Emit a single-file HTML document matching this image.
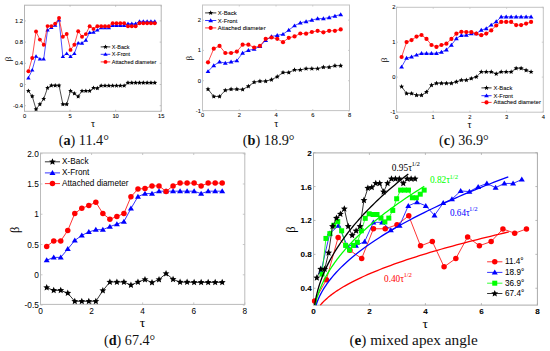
<!DOCTYPE html>
<html><head><meta charset="utf-8"><style>
html,body{margin:0;padding:0;background:#fff;}
body{width:550px;height:351px;overflow:hidden;}
svg{display:block;}

</style></head><body>
<svg width="550" height="351" viewBox="0 0 550 351">
<rect width="550" height="351" fill="#fff"/>
<rect x="24.5" y="5.2" width="136.7" height="106.1" fill="none" stroke="#b4b4b4" stroke-width="1"/>
<path d="M24.5 111.3v-1.5M24.5 5.2v1.5M70.07 111.3v-1.5M70.07 5.2v1.5M115.63 111.3v-1.5M115.63 5.2v1.5M161.2 111.3v-1.5M161.2 5.2v1.5M24.5 105.7h1.5M161.2 105.7h-1.5M24.5 84.5h1.5M161.2 84.5h-1.5M24.5 63.3h1.5M161.2 63.3h-1.5M24.5 42.1h1.5M161.2 42.1h-1.5M24.5 20.9h1.5M161.2 20.9h-1.5" stroke="#b4b4b4" stroke-width="0.8" fill="none"/>
<path d="M28.4 90.9 L32.23 96.3 L36.06 109.3 L39.89 104.3 L43.72 98.9 L47.55 87.9 L51.38 85.5 L55.21 85.5 L59.04 85.5 L62.87 104.3 L66.7 104.3 L70.53 90.9 L74.36 93.5 L78.19 96.5 L82.02 90.9 L85.85 90.9 L89.68 90.9 L93.51 87.9 L97.34 88.3 L101.17 85.7 L105 85.7 L108.83 85.7 L112.66 85.7 L116.49 85.7 L120.32 85.7 L124.15 85.7 L127.98 82.8 L131.81 82.8 L135.64 82.8 L139.47 82.8 L143.3 82.8 L147.13 82.8 L150.96 82.8 L154.79 82.8" fill="none" stroke="#000" stroke-width="0.7" stroke-linejoin="round"/>
<path d="M28.4 88.4 L29.08 89.97 L30.78 90.13 L29.49 91.26 L29.87 92.92 L28.4 92.05 L26.93 92.92 L27.31 91.26 L26.02 90.13 L27.72 89.97Z" fill="#000"/>
<path d="M32.23 93.8 L32.91 95.37 L34.61 95.53 L33.32 96.66 L33.7 98.32 L32.23 97.45 L30.76 98.32 L31.14 96.66 L29.85 95.53 L31.55 95.37Z" fill="#000"/>
<path d="M36.06 106.8 L36.74 108.37 L38.44 108.53 L37.15 109.66 L37.53 111.32 L36.06 110.45 L34.59 111.32 L34.97 109.66 L33.68 108.53 L35.38 108.37Z" fill="#000"/>
<path d="M39.89 101.8 L40.57 103.37 L42.27 103.53 L40.98 104.66 L41.36 106.32 L39.89 105.45 L38.42 106.32 L38.8 104.66 L37.51 103.53 L39.21 103.37Z" fill="#000"/>
<path d="M43.72 96.4 L44.4 97.97 L46.1 98.13 L44.81 99.26 L45.19 100.92 L43.72 100.05 L42.25 100.92 L42.63 99.26 L41.34 98.13 L43.04 97.97Z" fill="#000"/>
<path d="M47.55 85.4 L48.23 86.97 L49.93 87.13 L48.64 88.26 L49.02 89.92 L47.55 89.05 L46.08 89.92 L46.46 88.26 L45.17 87.13 L46.87 86.97Z" fill="#000"/>
<path d="M51.38 83 L52.06 84.57 L53.76 84.73 L52.47 85.86 L52.85 87.52 L51.38 86.65 L49.91 87.52 L50.29 85.86 L49 84.73 L50.7 84.57Z" fill="#000"/>
<path d="M55.21 83 L55.89 84.57 L57.59 84.73 L56.3 85.86 L56.68 87.52 L55.21 86.65 L53.74 87.52 L54.12 85.86 L52.83 84.73 L54.53 84.57Z" fill="#000"/>
<path d="M59.04 83 L59.72 84.57 L61.42 84.73 L60.13 85.86 L60.51 87.52 L59.04 86.65 L57.57 87.52 L57.95 85.86 L56.66 84.73 L58.36 84.57Z" fill="#000"/>
<path d="M62.87 101.8 L63.55 103.37 L65.25 103.53 L63.96 104.66 L64.34 106.32 L62.87 105.45 L61.4 106.32 L61.78 104.66 L60.49 103.53 L62.19 103.37Z" fill="#000"/>
<path d="M66.7 101.8 L67.38 103.37 L69.08 103.53 L67.79 104.66 L68.17 106.32 L66.7 105.45 L65.23 106.32 L65.61 104.66 L64.32 103.53 L66.02 103.37Z" fill="#000"/>
<path d="M70.53 88.4 L71.21 89.97 L72.91 90.13 L71.62 91.26 L72 92.92 L70.53 92.05 L69.06 92.92 L69.44 91.26 L68.15 90.13 L69.85 89.97Z" fill="#000"/>
<path d="M74.36 91 L75.04 92.57 L76.74 92.73 L75.45 93.86 L75.83 95.52 L74.36 94.65 L72.89 95.52 L73.27 93.86 L71.98 92.73 L73.68 92.57Z" fill="#000"/>
<path d="M78.19 94 L78.87 95.57 L80.57 95.73 L79.28 96.86 L79.66 98.52 L78.19 97.65 L76.72 98.52 L77.1 96.86 L75.81 95.73 L77.51 95.57Z" fill="#000"/>
<path d="M82.02 88.4 L82.7 89.97 L84.4 90.13 L83.11 91.26 L83.49 92.92 L82.02 92.05 L80.55 92.92 L80.93 91.26 L79.64 90.13 L81.34 89.97Z" fill="#000"/>
<path d="M85.85 88.4 L86.53 89.97 L88.23 90.13 L86.94 91.26 L87.32 92.92 L85.85 92.05 L84.38 92.92 L84.76 91.26 L83.47 90.13 L85.17 89.97Z" fill="#000"/>
<path d="M89.68 88.4 L90.36 89.97 L92.06 90.13 L90.77 91.26 L91.15 92.92 L89.68 92.05 L88.21 92.92 L88.59 91.26 L87.3 90.13 L89 89.97Z" fill="#000"/>
<path d="M93.51 85.4 L94.19 86.97 L95.89 87.13 L94.6 88.26 L94.98 89.92 L93.51 89.05 L92.04 89.92 L92.42 88.26 L91.13 87.13 L92.83 86.97Z" fill="#000"/>
<path d="M97.34 85.8 L98.02 87.37 L99.72 87.53 L98.43 88.66 L98.81 90.32 L97.34 89.45 L95.87 90.32 L96.25 88.66 L94.96 87.53 L96.66 87.37Z" fill="#000"/>
<path d="M101.17 83.2 L101.85 84.77 L103.55 84.93 L102.26 86.06 L102.64 87.72 L101.17 86.85 L99.7 87.72 L100.08 86.06 L98.79 84.93 L100.49 84.77Z" fill="#000"/>
<path d="M105 83.2 L105.68 84.77 L107.38 84.93 L106.09 86.06 L106.47 87.72 L105 86.85 L103.53 87.72 L103.91 86.06 L102.62 84.93 L104.32 84.77Z" fill="#000"/>
<path d="M108.83 83.2 L109.51 84.77 L111.21 84.93 L109.92 86.06 L110.3 87.72 L108.83 86.85 L107.36 87.72 L107.74 86.06 L106.45 84.93 L108.15 84.77Z" fill="#000"/>
<path d="M112.66 83.2 L113.34 84.77 L115.04 84.93 L113.75 86.06 L114.13 87.72 L112.66 86.85 L111.19 87.72 L111.57 86.06 L110.28 84.93 L111.98 84.77Z" fill="#000"/>
<path d="M116.49 83.2 L117.17 84.77 L118.87 84.93 L117.58 86.06 L117.96 87.72 L116.49 86.85 L115.02 87.72 L115.4 86.06 L114.11 84.93 L115.81 84.77Z" fill="#000"/>
<path d="M120.32 83.2 L121 84.77 L122.7 84.93 L121.41 86.06 L121.79 87.72 L120.32 86.85 L118.85 87.72 L119.23 86.06 L117.94 84.93 L119.64 84.77Z" fill="#000"/>
<path d="M124.15 83.2 L124.83 84.77 L126.53 84.93 L125.24 86.06 L125.62 87.72 L124.15 86.85 L122.68 87.72 L123.06 86.06 L121.77 84.93 L123.47 84.77Z" fill="#000"/>
<path d="M127.98 80.3 L128.66 81.87 L130.36 82.03 L129.07 83.16 L129.45 84.82 L127.98 83.95 L126.51 84.82 L126.89 83.16 L125.6 82.03 L127.3 81.87Z" fill="#000"/>
<path d="M131.81 80.3 L132.49 81.87 L134.19 82.03 L132.9 83.16 L133.28 84.82 L131.81 83.95 L130.34 84.82 L130.72 83.16 L129.43 82.03 L131.13 81.87Z" fill="#000"/>
<path d="M135.64 80.3 L136.32 81.87 L138.02 82.03 L136.73 83.16 L137.11 84.82 L135.64 83.95 L134.17 84.82 L134.55 83.16 L133.26 82.03 L134.96 81.87Z" fill="#000"/>
<path d="M139.47 80.3 L140.15 81.87 L141.85 82.03 L140.56 83.16 L140.94 84.82 L139.47 83.95 L138 84.82 L138.38 83.16 L137.09 82.03 L138.79 81.87Z" fill="#000"/>
<path d="M143.3 80.3 L143.98 81.87 L145.68 82.03 L144.39 83.16 L144.77 84.82 L143.3 83.95 L141.83 84.82 L142.21 83.16 L140.92 82.03 L142.62 81.87Z" fill="#000"/>
<path d="M147.13 80.3 L147.81 81.87 L149.51 82.03 L148.22 83.16 L148.6 84.82 L147.13 83.95 L145.66 84.82 L146.04 83.16 L144.75 82.03 L146.45 81.87Z" fill="#000"/>
<path d="M150.96 80.3 L151.64 81.87 L153.34 82.03 L152.05 83.16 L152.43 84.82 L150.96 83.95 L149.49 84.82 L149.87 83.16 L148.58 82.03 L150.28 81.87Z" fill="#000"/>
<path d="M154.79 80.3 L155.47 81.87 L157.17 82.03 L155.88 83.16 L156.26 84.82 L154.79 83.95 L153.32 84.82 L153.7 83.16 L152.41 82.03 L154.11 81.87Z" fill="#000"/>
<path d="M28.4 77.9 L32.23 70 L36.06 56.3 L39.89 59 L43.72 59 L47.55 30 L51.38 27.6 L55.21 25.2 L59.04 19.9 L62.87 56.6 L66.7 53.5 L70.53 56.6 L74.36 53.5 L78.19 43 L82.02 43.2 L85.85 40.2 L89.68 32.5 L93.51 32.3 L97.34 30.1 L101.17 27.8 L105 27.8 L108.83 27.8 L112.66 25.4 L116.49 25.4 L120.32 25.4 L124.15 25.4 L127.98 23.7 L131.81 23.7 L135.64 23.7 L139.47 21.4 L143.3 21.4 L147.13 21.4 L150.96 21.4 L154.79 21.4" fill="none" stroke="#0000ff" stroke-width="0.7" stroke-linejoin="round"/>
<path d="M28.4 75.81L30.6 79.41L26.2 79.41Z" fill="#0000ff"/>
<path d="M32.23 67.91L34.43 71.51L30.03 71.51Z" fill="#0000ff"/>
<path d="M36.06 54.21L38.26 57.81L33.86 57.81Z" fill="#0000ff"/>
<path d="M39.89 56.91L42.09 60.51L37.69 60.51Z" fill="#0000ff"/>
<path d="M43.72 56.91L45.92 60.51L41.52 60.51Z" fill="#0000ff"/>
<path d="M47.55 27.91L49.75 31.51L45.35 31.51Z" fill="#0000ff"/>
<path d="M51.38 25.51L53.58 29.11L49.18 29.11Z" fill="#0000ff"/>
<path d="M55.21 23.11L57.41 26.71L53.01 26.71Z" fill="#0000ff"/>
<path d="M59.04 17.81L61.24 21.41L56.84 21.41Z" fill="#0000ff"/>
<path d="M62.87 54.51L65.07 58.11L60.67 58.11Z" fill="#0000ff"/>
<path d="M66.7 51.41L68.9 55.01L64.5 55.01Z" fill="#0000ff"/>
<path d="M70.53 54.51L72.73 58.11L68.33 58.11Z" fill="#0000ff"/>
<path d="M74.36 51.41L76.56 55.01L72.16 55.01Z" fill="#0000ff"/>
<path d="M78.19 40.91L80.39 44.51L75.99 44.51Z" fill="#0000ff"/>
<path d="M82.02 41.11L84.22 44.71L79.82 44.71Z" fill="#0000ff"/>
<path d="M85.85 38.11L88.05 41.71L83.65 41.71Z" fill="#0000ff"/>
<path d="M89.68 30.41L91.88 34.01L87.48 34.01Z" fill="#0000ff"/>
<path d="M93.51 30.21L95.71 33.81L91.31 33.81Z" fill="#0000ff"/>
<path d="M97.34 28.01L99.54 31.61L95.14 31.61Z" fill="#0000ff"/>
<path d="M101.17 25.71L103.37 29.31L98.97 29.31Z" fill="#0000ff"/>
<path d="M105 25.71L107.2 29.31L102.8 29.31Z" fill="#0000ff"/>
<path d="M108.83 25.71L111.03 29.31L106.63 29.31Z" fill="#0000ff"/>
<path d="M112.66 23.31L114.86 26.91L110.46 26.91Z" fill="#0000ff"/>
<path d="M116.49 23.31L118.69 26.91L114.29 26.91Z" fill="#0000ff"/>
<path d="M120.32 23.31L122.52 26.91L118.12 26.91Z" fill="#0000ff"/>
<path d="M124.15 23.31L126.35 26.91L121.95 26.91Z" fill="#0000ff"/>
<path d="M127.98 21.61L130.18 25.21L125.78 25.21Z" fill="#0000ff"/>
<path d="M131.81 21.61L134.01 25.21L129.61 25.21Z" fill="#0000ff"/>
<path d="M135.64 21.61L137.84 25.21L133.44 25.21Z" fill="#0000ff"/>
<path d="M139.47 19.31L141.67 22.91L137.27 22.91Z" fill="#0000ff"/>
<path d="M143.3 19.31L145.5 22.91L141.1 22.91Z" fill="#0000ff"/>
<path d="M147.13 19.31L149.33 22.91L144.93 22.91Z" fill="#0000ff"/>
<path d="M150.96 19.31L153.16 22.91L148.76 22.91Z" fill="#0000ff"/>
<path d="M154.79 19.31L156.99 22.91L152.59 22.91Z" fill="#0000ff"/>
<path d="M28.4 71.3 L32.23 58 L36.06 31.5 L39.89 39.6 L43.72 44.7 L47.55 26.1 L51.38 26.1 L55.21 23.6 L59.04 18 L62.87 36.8 L66.7 34 L70.53 49.9 L74.36 44.7 L78.19 31.2 L82.02 36.7 L85.85 34.1 L89.68 26.2 L93.51 28.9 L97.34 26.2 L101.17 26.2 L105 26.2 L108.83 26.2 L112.66 23.2 L116.49 23.2 L120.32 23.2 L124.15 23.2 L127.98 26.2 L131.81 26.2 L135.64 26.2 L139.47 23.2 L143.3 23.2 L147.13 23.2 L150.96 23.2 L154.79 23.2" fill="none" stroke="#ff0000" stroke-width="0.7" stroke-linejoin="round"/>
<circle cx="28.4" cy="71.3" r="1.95" fill="#ff0000"/>
<circle cx="32.23" cy="58" r="1.95" fill="#ff0000"/>
<circle cx="36.06" cy="31.5" r="1.95" fill="#ff0000"/>
<circle cx="39.89" cy="39.6" r="1.95" fill="#ff0000"/>
<circle cx="43.72" cy="44.7" r="1.95" fill="#ff0000"/>
<circle cx="47.55" cy="26.1" r="1.95" fill="#ff0000"/>
<circle cx="51.38" cy="26.1" r="1.95" fill="#ff0000"/>
<circle cx="55.21" cy="23.6" r="1.95" fill="#ff0000"/>
<circle cx="59.04" cy="18" r="1.95" fill="#ff0000"/>
<circle cx="62.87" cy="36.8" r="1.95" fill="#ff0000"/>
<circle cx="66.7" cy="34" r="1.95" fill="#ff0000"/>
<circle cx="70.53" cy="49.9" r="1.95" fill="#ff0000"/>
<circle cx="74.36" cy="44.7" r="1.95" fill="#ff0000"/>
<circle cx="78.19" cy="31.2" r="1.95" fill="#ff0000"/>
<circle cx="82.02" cy="36.7" r="1.95" fill="#ff0000"/>
<circle cx="85.85" cy="34.1" r="1.95" fill="#ff0000"/>
<circle cx="89.68" cy="26.2" r="1.95" fill="#ff0000"/>
<circle cx="93.51" cy="28.9" r="1.95" fill="#ff0000"/>
<circle cx="97.34" cy="26.2" r="1.95" fill="#ff0000"/>
<circle cx="101.17" cy="26.2" r="1.95" fill="#ff0000"/>
<circle cx="105" cy="26.2" r="1.95" fill="#ff0000"/>
<circle cx="108.83" cy="26.2" r="1.95" fill="#ff0000"/>
<circle cx="112.66" cy="23.2" r="1.95" fill="#ff0000"/>
<circle cx="116.49" cy="23.2" r="1.95" fill="#ff0000"/>
<circle cx="120.32" cy="23.2" r="1.95" fill="#ff0000"/>
<circle cx="124.15" cy="23.2" r="1.95" fill="#ff0000"/>
<circle cx="127.98" cy="26.2" r="1.95" fill="#ff0000"/>
<circle cx="131.81" cy="26.2" r="1.95" fill="#ff0000"/>
<circle cx="135.64" cy="26.2" r="1.95" fill="#ff0000"/>
<circle cx="139.47" cy="23.2" r="1.95" fill="#ff0000"/>
<circle cx="143.3" cy="23.2" r="1.95" fill="#ff0000"/>
<circle cx="147.13" cy="23.2" r="1.95" fill="#ff0000"/>
<circle cx="150.96" cy="23.2" r="1.95" fill="#ff0000"/>
<circle cx="154.79" cy="23.2" r="1.95" fill="#ff0000"/>
<text x="23" y="20.9" font-family="Liberation Sans" font-size="5.8" text-anchor="end" fill="#000" stroke="#000" stroke-width="0.06" dominant-baseline="central">1.2</text>
<text x="23" y="42.1" font-family="Liberation Sans" font-size="5.8" text-anchor="end" fill="#000" stroke="#000" stroke-width="0.06" dominant-baseline="central">0.8</text>
<text x="23" y="63.3" font-family="Liberation Sans" font-size="5.8" text-anchor="end" fill="#000" stroke="#000" stroke-width="0.06" dominant-baseline="central">0.4</text>
<text x="23" y="84.5" font-family="Liberation Sans" font-size="5.8" text-anchor="end" fill="#000" stroke="#000" stroke-width="0.06" dominant-baseline="central">0</text>
<text x="23" y="105.7" font-family="Liberation Sans" font-size="5.8" text-anchor="end" fill="#000" stroke="#000" stroke-width="0.06" dominant-baseline="central">-0.4</text>
<text x="24.5" y="115.6" font-family="Liberation Sans" font-size="5.8" text-anchor="middle" fill="#000" stroke="#000" stroke-width="0.06" dominant-baseline="central">0</text>
<text x="70.07" y="115.6" font-family="Liberation Sans" font-size="5.8" text-anchor="middle" fill="#000" stroke="#000" stroke-width="0.06" dominant-baseline="central">5</text>
<text x="115.63" y="115.6" font-family="Liberation Sans" font-size="5.8" text-anchor="middle" fill="#000" stroke="#000" stroke-width="0.06" dominant-baseline="central">10</text>
<text x="161.2" y="115.6" font-family="Liberation Sans" font-size="5.8" text-anchor="middle" fill="#000" stroke="#000" stroke-width="0.06" dominant-baseline="central">15</text>
<text x="93.1" y="123.7" font-family="Liberation Serif" font-size="10" text-anchor="middle" dominant-baseline="central">&#964;</text>
<text x="0" y="0" font-family="Liberation Serif" font-size="9" text-anchor="middle" transform="translate(8.4 59) rotate(-90)" dominant-baseline="central">&#946;</text>
<path d="M100.7 46.9H110.3" stroke="#000" stroke-width="0.8"/>
<path d="M105.5 44.4 L106.18 45.97 L107.88 46.13 L106.59 47.26 L106.97 48.92 L105.5 48.05 L104.03 48.92 L104.41 47.26 L103.12 46.13 L104.82 45.97Z" fill="#000"/>
<text x="111.8" y="46.9" font-family="Liberation Sans" font-size="5.5" text-anchor="start" fill="#000" stroke="#000" stroke-width="0.06" dominant-baseline="central">X-Back</text>
<path d="M100.7 54.3H110.3" stroke="#0000ff" stroke-width="0.8"/>
<path d="M105.5 52.21L107.7 55.81L103.3 55.81Z" fill="#0000ff"/>
<text x="111.8" y="54.3" font-family="Liberation Sans" font-size="5.5" text-anchor="start" fill="#000" stroke="#000" stroke-width="0.06" dominant-baseline="central">X-Front</text>
<path d="M100.7 61.9H110.3" stroke="#ff0000" stroke-width="0.8"/>
<circle cx="105.5" cy="61.9" r="1.95" fill="#ff0000"/>
<text x="111.8" y="61.9" font-family="Liberation Sans" font-size="5.5" text-anchor="start" fill="#000" stroke="#000" stroke-width="0.06" dominant-baseline="central">Attached diameter</text>
<text x="58.7" y="145" font-family="Liberation Serif" font-size="14" textLength="50.2" lengthAdjust="spacingAndGlyphs" fill="#111">(<tspan font-weight="bold">a</tspan>) 11.4&#176;</text>
<rect x="202.5" y="5" width="147" height="105.6" fill="none" stroke="#c4c4c4" stroke-width="1"/>
<path d="M202.5 110.6v-1.5M202.5 5v1.5M239.25 110.6v-1.5M239.25 5v1.5M276 110.6v-1.5M276 5v1.5M312.75 110.6v-1.5M312.75 5v1.5M349.5 110.6v-1.5M349.5 5v1.5M202.5 111h1.5M349.5 111h-1.5M202.5 80.71h1.5M349.5 80.71h-1.5M202.5 50.42h1.5M349.5 50.42h-1.5M202.5 20.13h1.5M349.5 20.13h-1.5" stroke="#c4c4c4" stroke-width="0.8" fill="none"/>
<path d="M208 89.2 L213.77 96.5 L219.54 96.5 L225.31 90.3 L231.08 89.2 L236.85 89.2 L242.62 89.5 L248.39 86.3 L254.16 82.2 L259.93 81.2 L265.7 81.2 L271.47 79.7 L277.24 76.7 L283.01 72.5 L288.78 72.5 L294.55 69.9 L300.32 69.9 L306.09 68.6 L311.86 68.6 L317.63 68.6 L323.4 67.2 L329.17 67.2 L334.94 65.7 L340.71 65.7" fill="none" stroke="#000" stroke-width="0.7" stroke-linejoin="round"/>
<path d="M208 86.6 L208.7 88.23 L210.47 88.4 L209.14 89.57 L209.53 91.3 L208 90.4 L206.47 91.3 L206.86 89.57 L205.53 88.4 L207.3 88.23Z" fill="#000"/>
<path d="M213.77 93.9 L214.47 95.53 L216.24 95.7 L214.91 96.87 L215.3 98.6 L213.77 97.7 L212.24 98.6 L212.63 96.87 L211.3 95.7 L213.07 95.53Z" fill="#000"/>
<path d="M219.54 93.9 L220.24 95.53 L222.01 95.7 L220.68 96.87 L221.07 98.6 L219.54 97.7 L218.01 98.6 L218.4 96.87 L217.07 95.7 L218.84 95.53Z" fill="#000"/>
<path d="M225.31 87.7 L226.01 89.33 L227.78 89.5 L226.45 90.67 L226.84 92.4 L225.31 91.5 L223.78 92.4 L224.17 90.67 L222.84 89.5 L224.61 89.33Z" fill="#000"/>
<path d="M231.08 86.6 L231.78 88.23 L233.55 88.4 L232.22 89.57 L232.61 91.3 L231.08 90.4 L229.55 91.3 L229.94 89.57 L228.61 88.4 L230.38 88.23Z" fill="#000"/>
<path d="M236.85 86.6 L237.55 88.23 L239.32 88.4 L237.99 89.57 L238.38 91.3 L236.85 90.4 L235.32 91.3 L235.71 89.57 L234.38 88.4 L236.15 88.23Z" fill="#000"/>
<path d="M242.62 86.9 L243.32 88.53 L245.09 88.7 L243.76 89.87 L244.15 91.6 L242.62 90.7 L241.09 91.6 L241.48 89.87 L240.15 88.7 L241.92 88.53Z" fill="#000"/>
<path d="M248.39 83.7 L249.09 85.33 L250.86 85.5 L249.53 86.67 L249.92 88.4 L248.39 87.5 L246.86 88.4 L247.25 86.67 L245.92 85.5 L247.69 85.33Z" fill="#000"/>
<path d="M254.16 79.6 L254.86 81.23 L256.63 81.4 L255.3 82.57 L255.69 84.3 L254.16 83.4 L252.63 84.3 L253.02 82.57 L251.69 81.4 L253.46 81.23Z" fill="#000"/>
<path d="M259.93 78.6 L260.63 80.23 L262.4 80.4 L261.07 81.57 L261.46 83.3 L259.93 82.4 L258.4 83.3 L258.79 81.57 L257.46 80.4 L259.23 80.23Z" fill="#000"/>
<path d="M265.7 78.6 L266.4 80.23 L268.17 80.4 L266.84 81.57 L267.23 83.3 L265.7 82.4 L264.17 83.3 L264.56 81.57 L263.23 80.4 L265 80.23Z" fill="#000"/>
<path d="M271.47 77.1 L272.17 78.73 L273.94 78.9 L272.61 80.07 L273 81.8 L271.47 80.9 L269.94 81.8 L270.33 80.07 L269 78.9 L270.77 78.73Z" fill="#000"/>
<path d="M277.24 74.1 L277.94 75.73 L279.71 75.9 L278.38 77.07 L278.77 78.8 L277.24 77.9 L275.71 78.8 L276.1 77.07 L274.77 75.9 L276.54 75.73Z" fill="#000"/>
<path d="M283.01 69.9 L283.71 71.53 L285.48 71.7 L284.15 72.87 L284.54 74.6 L283.01 73.7 L281.48 74.6 L281.87 72.87 L280.54 71.7 L282.31 71.53Z" fill="#000"/>
<path d="M288.78 69.9 L289.48 71.53 L291.25 71.7 L289.92 72.87 L290.31 74.6 L288.78 73.7 L287.25 74.6 L287.64 72.87 L286.31 71.7 L288.08 71.53Z" fill="#000"/>
<path d="M294.55 67.3 L295.25 68.93 L297.02 69.1 L295.69 70.27 L296.08 72 L294.55 71.1 L293.02 72 L293.41 70.27 L292.08 69.1 L293.85 68.93Z" fill="#000"/>
<path d="M300.32 67.3 L301.02 68.93 L302.79 69.1 L301.46 70.27 L301.85 72 L300.32 71.1 L298.79 72 L299.18 70.27 L297.85 69.1 L299.62 68.93Z" fill="#000"/>
<path d="M306.09 66 L306.79 67.63 L308.56 67.8 L307.23 68.97 L307.62 70.7 L306.09 69.8 L304.56 70.7 L304.95 68.97 L303.62 67.8 L305.39 67.63Z" fill="#000"/>
<path d="M311.86 66 L312.56 67.63 L314.33 67.8 L313 68.97 L313.39 70.7 L311.86 69.8 L310.33 70.7 L310.72 68.97 L309.39 67.8 L311.16 67.63Z" fill="#000"/>
<path d="M317.63 66 L318.33 67.63 L320.1 67.8 L318.77 68.97 L319.16 70.7 L317.63 69.8 L316.1 70.7 L316.49 68.97 L315.16 67.8 L316.93 67.63Z" fill="#000"/>
<path d="M323.4 64.6 L324.1 66.23 L325.87 66.4 L324.54 67.57 L324.93 69.3 L323.4 68.4 L321.87 69.3 L322.26 67.57 L320.93 66.4 L322.7 66.23Z" fill="#000"/>
<path d="M329.17 64.6 L329.87 66.23 L331.64 66.4 L330.31 67.57 L330.7 69.3 L329.17 68.4 L327.64 69.3 L328.03 67.57 L326.7 66.4 L328.47 66.23Z" fill="#000"/>
<path d="M334.94 63.1 L335.64 64.73 L337.41 64.9 L336.08 66.07 L336.47 67.8 L334.94 66.9 L333.41 67.8 L333.8 66.07 L332.47 64.9 L334.24 64.73Z" fill="#000"/>
<path d="M340.71 63.1 L341.41 64.73 L343.18 64.9 L341.85 66.07 L342.24 67.8 L340.71 66.9 L339.18 67.8 L339.57 66.07 L338.24 64.9 L340.01 64.73Z" fill="#000"/>
<path d="M208 71.4 L213.77 65.5 L219.54 61.8 L225.31 63.1 L231.08 61.8 L236.85 60.7 L242.62 53 L248.39 50.3 L254.16 49.2 L259.93 46.3 L265.7 40.4 L271.47 36.5 L277.24 35.3 L283.01 34.2 L288.78 30.1 L294.55 25.7 L300.32 22.8 L306.09 21.5 L311.86 20.1 L317.63 18.6 L323.4 18.6 L329.17 17.5 L334.94 16 L340.71 14.5" fill="none" stroke="#0000ff" stroke-width="0.7" stroke-linejoin="round"/>
<path d="M208 69.14L210.4 73.04L205.6 73.04Z" fill="#0000ff"/>
<path d="M213.77 63.24L216.17 67.14L211.37 67.14Z" fill="#0000ff"/>
<path d="M219.54 59.54L221.94 63.44L217.14 63.44Z" fill="#0000ff"/>
<path d="M225.31 60.84L227.71 64.74L222.91 64.74Z" fill="#0000ff"/>
<path d="M231.08 59.54L233.48 63.44L228.68 63.44Z" fill="#0000ff"/>
<path d="M236.85 58.44L239.25 62.34L234.45 62.34Z" fill="#0000ff"/>
<path d="M242.62 50.74L245.02 54.64L240.22 54.64Z" fill="#0000ff"/>
<path d="M248.39 48.04L250.79 51.94L245.99 51.94Z" fill="#0000ff"/>
<path d="M254.16 46.94L256.56 50.84L251.76 50.84Z" fill="#0000ff"/>
<path d="M259.93 44.04L262.33 47.94L257.53 47.94Z" fill="#0000ff"/>
<path d="M265.7 38.14L268.1 42.04L263.3 42.04Z" fill="#0000ff"/>
<path d="M271.47 34.24L273.87 38.14L269.07 38.14Z" fill="#0000ff"/>
<path d="M277.24 33.04L279.64 36.94L274.84 36.94Z" fill="#0000ff"/>
<path d="M283.01 31.94L285.41 35.84L280.61 35.84Z" fill="#0000ff"/>
<path d="M288.78 27.84L291.18 31.74L286.38 31.74Z" fill="#0000ff"/>
<path d="M294.55 23.44L296.95 27.34L292.15 27.34Z" fill="#0000ff"/>
<path d="M300.32 20.54L302.72 24.44L297.92 24.44Z" fill="#0000ff"/>
<path d="M306.09 19.24L308.49 23.14L303.69 23.14Z" fill="#0000ff"/>
<path d="M311.86 17.84L314.26 21.74L309.46 21.74Z" fill="#0000ff"/>
<path d="M317.63 16.34L320.03 20.24L315.23 20.24Z" fill="#0000ff"/>
<path d="M323.4 16.34L325.8 20.24L321 20.24Z" fill="#0000ff"/>
<path d="M329.17 15.24L331.57 19.14L326.77 19.14Z" fill="#0000ff"/>
<path d="M334.94 13.74L337.34 17.64L332.54 17.64Z" fill="#0000ff"/>
<path d="M340.71 12.24L343.11 16.14L338.31 16.14Z" fill="#0000ff"/>
<path d="M208 62.3 L213.77 48.7 L219.54 45.9 L225.31 53 L231.08 53 L236.85 51.6 L242.62 44.7 L248.39 44.7 L254.16 47.5 L259.93 45.9 L265.7 38.8 L271.47 37.5 L277.24 38.8 L283.01 42.2 L288.78 37.8 L294.55 36.4 L300.32 33.5 L306.09 33.7 L311.86 32 L317.63 30.8 L323.4 32.3 L329.17 30.8 L334.94 30.8 L340.71 29.4" fill="none" stroke="#ff0000" stroke-width="0.7" stroke-linejoin="round"/>
<circle cx="208" cy="62.3" r="2.1" fill="#ff0000"/>
<circle cx="213.77" cy="48.7" r="2.1" fill="#ff0000"/>
<circle cx="219.54" cy="45.9" r="2.1" fill="#ff0000"/>
<circle cx="225.31" cy="53" r="2.1" fill="#ff0000"/>
<circle cx="231.08" cy="53" r="2.1" fill="#ff0000"/>
<circle cx="236.85" cy="51.6" r="2.1" fill="#ff0000"/>
<circle cx="242.62" cy="44.7" r="2.1" fill="#ff0000"/>
<circle cx="248.39" cy="44.7" r="2.1" fill="#ff0000"/>
<circle cx="254.16" cy="47.5" r="2.1" fill="#ff0000"/>
<circle cx="259.93" cy="45.9" r="2.1" fill="#ff0000"/>
<circle cx="265.7" cy="38.8" r="2.1" fill="#ff0000"/>
<circle cx="271.47" cy="37.5" r="2.1" fill="#ff0000"/>
<circle cx="277.24" cy="38.8" r="2.1" fill="#ff0000"/>
<circle cx="283.01" cy="42.2" r="2.1" fill="#ff0000"/>
<circle cx="288.78" cy="37.8" r="2.1" fill="#ff0000"/>
<circle cx="294.55" cy="36.4" r="2.1" fill="#ff0000"/>
<circle cx="300.32" cy="33.5" r="2.1" fill="#ff0000"/>
<circle cx="306.09" cy="33.7" r="2.1" fill="#ff0000"/>
<circle cx="311.86" cy="32" r="2.1" fill="#ff0000"/>
<circle cx="317.63" cy="30.8" r="2.1" fill="#ff0000"/>
<circle cx="323.4" cy="32.3" r="2.1" fill="#ff0000"/>
<circle cx="329.17" cy="30.8" r="2.1" fill="#ff0000"/>
<circle cx="334.94" cy="30.8" r="2.1" fill="#ff0000"/>
<circle cx="340.71" cy="29.4" r="2.1" fill="#ff0000"/>
<text x="201" y="20.13" font-family="Liberation Sans" font-size="5.8" text-anchor="end" fill="#000" stroke="#000" stroke-width="0.06" dominant-baseline="central">2</text>
<text x="201" y="50.42" font-family="Liberation Sans" font-size="5.8" text-anchor="end" fill="#000" stroke="#000" stroke-width="0.06" dominant-baseline="central">1</text>
<text x="201" y="80.71" font-family="Liberation Sans" font-size="5.8" text-anchor="end" fill="#000" stroke="#000" stroke-width="0.06" dominant-baseline="central">0</text>
<text x="201" y="111" font-family="Liberation Sans" font-size="5.8" text-anchor="end" fill="#000" stroke="#000" stroke-width="0.06" dominant-baseline="central">-1</text>
<text x="202.5" y="115.4" font-family="Liberation Sans" font-size="5.8" text-anchor="middle" fill="#000" stroke="#000" stroke-width="0.06" dominant-baseline="central">0</text>
<text x="239.25" y="115.4" font-family="Liberation Sans" font-size="5.8" text-anchor="middle" fill="#000" stroke="#000" stroke-width="0.06" dominant-baseline="central">2</text>
<text x="276" y="115.4" font-family="Liberation Sans" font-size="5.8" text-anchor="middle" fill="#000" stroke="#000" stroke-width="0.06" dominant-baseline="central">4</text>
<text x="312.75" y="115.4" font-family="Liberation Sans" font-size="5.8" text-anchor="middle" fill="#000" stroke="#000" stroke-width="0.06" dominant-baseline="central">6</text>
<text x="349.5" y="115.4" font-family="Liberation Sans" font-size="5.8" text-anchor="middle" fill="#000" stroke="#000" stroke-width="0.06" dominant-baseline="central">8</text>
<text x="276.3" y="123.8" font-family="Liberation Serif" font-size="10" text-anchor="middle" dominant-baseline="central">&#964;</text>
<text x="0" y="0" font-family="Liberation Serif" font-size="9.2" text-anchor="middle" transform="translate(188.8 58.1) rotate(-90)" dominant-baseline="central">&#946;</text>
<path d="M205.1 12.9H216.3" stroke="#000" stroke-width="0.8"/>
<path d="M210.7 10.3 L211.4 11.93 L213.17 12.1 L211.84 13.27 L212.23 15 L210.7 14.1 L209.17 15 L209.56 13.27 L208.23 12.1 L210 11.93Z" fill="#000"/>
<text x="217.8" y="12.9" font-family="Liberation Sans" font-size="5.9" text-anchor="start" fill="#000" stroke="#000" stroke-width="0.06" dominant-baseline="central">X-Back</text>
<path d="M205.1 20.5H216.3" stroke="#0000ff" stroke-width="0.8"/>
<path d="M210.7 18.24L213.1 22.14L208.3 22.14Z" fill="#0000ff"/>
<text x="217.8" y="20.5" font-family="Liberation Sans" font-size="5.9" text-anchor="start" fill="#000" stroke="#000" stroke-width="0.06" dominant-baseline="central">X-Front</text>
<path d="M205.1 27.9H216.3" stroke="#ff0000" stroke-width="0.8"/>
<circle cx="210.7" cy="27.9" r="2.1" fill="#ff0000"/>
<text x="217.8" y="27.9" font-family="Liberation Sans" font-size="5.9" text-anchor="start" fill="#000" stroke="#000" stroke-width="0.06" dominant-baseline="central">Attached diameter</text>
<text x="242.8" y="144.8" font-family="Liberation Serif" font-size="14" textLength="51.8" lengthAdjust="spacingAndGlyphs" fill="#111">(<tspan font-weight="bold">b</tspan>) 18.9&#176;</text>
<rect x="396.5" y="7.3" width="146.8" height="104.9" fill="none" stroke="#c4c4c4" stroke-width="1"/>
<path d="M396.5 112.2v-1.5M396.5 7.3v1.5M433.2 112.2v-1.5M433.2 7.3v1.5M469.9 112.2v-1.5M469.9 7.3v1.5M506.6 112.2v-1.5M506.6 7.3v1.5M543.3 112.2v-1.5M543.3 7.3v1.5M396.5 112h1.5M543.3 112h-1.5M396.5 77.1h1.5M543.3 77.1h-1.5M396.5 42.2h1.5M543.3 42.2h-1.5M396.5 7.3h1.5M543.3 7.3h-1.5" stroke="#c4c4c4" stroke-width="0.8" fill="none"/>
<path d="M401.6 86.6 L406.58 93.5 L411.56 93.5 L416.54 95.2 L421.52 95.2 L426.5 92 L431.48 85.2 L436.46 83.3 L441.44 83.3 L446.42 83.3 L451.4 83.3 L456.38 81.8 L461.36 80.1 L466.34 80.1 L471.32 78.5 L476.3 76.9 L481.28 71.9 L486.26 71.9 L491.24 71.9 L496.22 73.8 L501.2 71.9 L506.18 71.9 L511.16 71.9 L516.14 68.3 L521.12 68.3 L526.1 70.3 L531.08 71.9" fill="none" stroke="#000" stroke-width="0.7" stroke-linejoin="round"/>
<path d="M401.6 84 L402.3 85.63 L404.07 85.8 L402.74 86.97 L403.13 88.7 L401.6 87.8 L400.07 88.7 L400.46 86.97 L399.13 85.8 L400.9 85.63Z" fill="#000"/>
<path d="M406.58 90.9 L407.28 92.53 L409.05 92.7 L407.72 93.87 L408.11 95.6 L406.58 94.7 L405.05 95.6 L405.44 93.87 L404.11 92.7 L405.88 92.53Z" fill="#000"/>
<path d="M411.56 90.9 L412.26 92.53 L414.03 92.7 L412.7 93.87 L413.09 95.6 L411.56 94.7 L410.03 95.6 L410.42 93.87 L409.09 92.7 L410.86 92.53Z" fill="#000"/>
<path d="M416.54 92.6 L417.24 94.23 L419.01 94.4 L417.68 95.57 L418.07 97.3 L416.54 96.4 L415.01 97.3 L415.4 95.57 L414.07 94.4 L415.84 94.23Z" fill="#000"/>
<path d="M421.52 92.6 L422.22 94.23 L423.99 94.4 L422.66 95.57 L423.05 97.3 L421.52 96.4 L419.99 97.3 L420.38 95.57 L419.05 94.4 L420.82 94.23Z" fill="#000"/>
<path d="M426.5 89.4 L427.2 91.03 L428.97 91.2 L427.64 92.37 L428.03 94.1 L426.5 93.2 L424.97 94.1 L425.36 92.37 L424.03 91.2 L425.8 91.03Z" fill="#000"/>
<path d="M431.48 82.6 L432.18 84.23 L433.95 84.4 L432.62 85.57 L433.01 87.3 L431.48 86.4 L429.95 87.3 L430.34 85.57 L429.01 84.4 L430.78 84.23Z" fill="#000"/>
<path d="M436.46 80.7 L437.16 82.33 L438.93 82.5 L437.6 83.67 L437.99 85.4 L436.46 84.5 L434.93 85.4 L435.32 83.67 L433.99 82.5 L435.76 82.33Z" fill="#000"/>
<path d="M441.44 80.7 L442.14 82.33 L443.91 82.5 L442.58 83.67 L442.97 85.4 L441.44 84.5 L439.91 85.4 L440.3 83.67 L438.97 82.5 L440.74 82.33Z" fill="#000"/>
<path d="M446.42 80.7 L447.12 82.33 L448.89 82.5 L447.56 83.67 L447.95 85.4 L446.42 84.5 L444.89 85.4 L445.28 83.67 L443.95 82.5 L445.72 82.33Z" fill="#000"/>
<path d="M451.4 80.7 L452.1 82.33 L453.87 82.5 L452.54 83.67 L452.93 85.4 L451.4 84.5 L449.87 85.4 L450.26 83.67 L448.93 82.5 L450.7 82.33Z" fill="#000"/>
<path d="M456.38 79.2 L457.08 80.83 L458.85 81 L457.52 82.17 L457.91 83.9 L456.38 83 L454.85 83.9 L455.24 82.17 L453.91 81 L455.68 80.83Z" fill="#000"/>
<path d="M461.36 77.5 L462.06 79.13 L463.83 79.3 L462.5 80.47 L462.89 82.2 L461.36 81.3 L459.83 82.2 L460.22 80.47 L458.89 79.3 L460.66 79.13Z" fill="#000"/>
<path d="M466.34 77.5 L467.04 79.13 L468.81 79.3 L467.48 80.47 L467.87 82.2 L466.34 81.3 L464.81 82.2 L465.2 80.47 L463.87 79.3 L465.64 79.13Z" fill="#000"/>
<path d="M471.32 75.9 L472.02 77.53 L473.79 77.7 L472.46 78.87 L472.85 80.6 L471.32 79.7 L469.79 80.6 L470.18 78.87 L468.85 77.7 L470.62 77.53Z" fill="#000"/>
<path d="M476.3 74.3 L477 75.93 L478.77 76.1 L477.44 77.27 L477.83 79 L476.3 78.1 L474.77 79 L475.16 77.27 L473.83 76.1 L475.6 75.93Z" fill="#000"/>
<path d="M481.28 69.3 L481.98 70.93 L483.75 71.1 L482.42 72.27 L482.81 74 L481.28 73.1 L479.75 74 L480.14 72.27 L478.81 71.1 L480.58 70.93Z" fill="#000"/>
<path d="M486.26 69.3 L486.96 70.93 L488.73 71.1 L487.4 72.27 L487.79 74 L486.26 73.1 L484.73 74 L485.12 72.27 L483.79 71.1 L485.56 70.93Z" fill="#000"/>
<path d="M491.24 69.3 L491.94 70.93 L493.71 71.1 L492.38 72.27 L492.77 74 L491.24 73.1 L489.71 74 L490.1 72.27 L488.77 71.1 L490.54 70.93Z" fill="#000"/>
<path d="M496.22 71.2 L496.92 72.83 L498.69 73 L497.36 74.17 L497.75 75.9 L496.22 75 L494.69 75.9 L495.08 74.17 L493.75 73 L495.52 72.83Z" fill="#000"/>
<path d="M501.2 69.3 L501.9 70.93 L503.67 71.1 L502.34 72.27 L502.73 74 L501.2 73.1 L499.67 74 L500.06 72.27 L498.73 71.1 L500.5 70.93Z" fill="#000"/>
<path d="M506.18 69.3 L506.88 70.93 L508.65 71.1 L507.32 72.27 L507.71 74 L506.18 73.1 L504.65 74 L505.04 72.27 L503.71 71.1 L505.48 70.93Z" fill="#000"/>
<path d="M511.16 69.3 L511.86 70.93 L513.63 71.1 L512.3 72.27 L512.69 74 L511.16 73.1 L509.63 74 L510.02 72.27 L508.69 71.1 L510.46 70.93Z" fill="#000"/>
<path d="M516.14 65.7 L516.84 67.33 L518.61 67.5 L517.28 68.67 L517.67 70.4 L516.14 69.5 L514.61 70.4 L515 68.67 L513.67 67.5 L515.44 67.33Z" fill="#000"/>
<path d="M521.12 65.7 L521.82 67.33 L523.59 67.5 L522.26 68.67 L522.65 70.4 L521.12 69.5 L519.59 70.4 L519.98 68.67 L518.65 67.5 L520.42 67.33Z" fill="#000"/>
<path d="M526.1 67.7 L526.8 69.33 L528.57 69.5 L527.24 70.67 L527.63 72.4 L526.1 71.5 L524.57 72.4 L524.96 70.67 L523.63 69.5 L525.4 69.33Z" fill="#000"/>
<path d="M531.08 69.3 L531.78 70.93 L533.55 71.1 L532.22 72.27 L532.61 74 L531.08 73.1 L529.55 74 L529.94 72.27 L528.61 71.1 L530.38 70.93Z" fill="#000"/>
<path d="M401.6 66.9 L406.58 58.1 L411.56 56.8 L416.54 54.9 L421.52 53.3 L426.5 53.3 L431.48 53.3 L436.46 53.3 L441.44 52 L446.42 49.8 L451.4 45 L456.38 38.5 L461.36 35.3 L466.34 35.2 L471.32 33.6 L476.3 33.6 L481.28 30.1 L486.26 28.5 L491.24 24.9 L496.22 21.6 L501.2 16.8 L506.18 16.8 L511.16 16.8 L516.14 16.8 L521.12 16.8 L526.1 16.8 L531.08 16.8" fill="none" stroke="#0000ff" stroke-width="0.7" stroke-linejoin="round"/>
<path d="M401.6 64.64L404 68.54L399.2 68.54Z" fill="#0000ff"/>
<path d="M406.58 55.84L408.98 59.74L404.18 59.74Z" fill="#0000ff"/>
<path d="M411.56 54.54L413.96 58.44L409.16 58.44Z" fill="#0000ff"/>
<path d="M416.54 52.64L418.94 56.54L414.14 56.54Z" fill="#0000ff"/>
<path d="M421.52 51.04L423.92 54.94L419.12 54.94Z" fill="#0000ff"/>
<path d="M426.5 51.04L428.9 54.94L424.1 54.94Z" fill="#0000ff"/>
<path d="M431.48 51.04L433.88 54.94L429.08 54.94Z" fill="#0000ff"/>
<path d="M436.46 51.04L438.86 54.94L434.06 54.94Z" fill="#0000ff"/>
<path d="M441.44 49.74L443.84 53.64L439.04 53.64Z" fill="#0000ff"/>
<path d="M446.42 47.54L448.82 51.44L444.02 51.44Z" fill="#0000ff"/>
<path d="M451.4 42.74L453.8 46.64L449 46.64Z" fill="#0000ff"/>
<path d="M456.38 36.24L458.78 40.14L453.98 40.14Z" fill="#0000ff"/>
<path d="M461.36 33.04L463.76 36.94L458.96 36.94Z" fill="#0000ff"/>
<path d="M466.34 32.94L468.74 36.84L463.94 36.84Z" fill="#0000ff"/>
<path d="M471.32 31.34L473.72 35.24L468.92 35.24Z" fill="#0000ff"/>
<path d="M476.3 31.34L478.7 35.24L473.9 35.24Z" fill="#0000ff"/>
<path d="M481.28 27.84L483.68 31.74L478.88 31.74Z" fill="#0000ff"/>
<path d="M486.26 26.24L488.66 30.14L483.86 30.14Z" fill="#0000ff"/>
<path d="M491.24 22.64L493.64 26.54L488.84 26.54Z" fill="#0000ff"/>
<path d="M496.22 19.34L498.62 23.24L493.82 23.24Z" fill="#0000ff"/>
<path d="M501.2 14.54L503.6 18.44L498.8 18.44Z" fill="#0000ff"/>
<path d="M506.18 14.54L508.58 18.44L503.78 18.44Z" fill="#0000ff"/>
<path d="M511.16 14.54L513.56 18.44L508.76 18.44Z" fill="#0000ff"/>
<path d="M516.14 14.54L518.54 18.44L513.74 18.44Z" fill="#0000ff"/>
<path d="M521.12 14.54L523.52 18.44L518.72 18.44Z" fill="#0000ff"/>
<path d="M526.1 14.54L528.5 18.44L523.7 18.44Z" fill="#0000ff"/>
<path d="M531.08 14.54L533.48 18.44L528.68 18.44Z" fill="#0000ff"/>
<path d="M401.6 57 L406.58 42.1 L411.56 40.1 L416.54 36.6 L421.52 35 L426.5 38.9 L431.48 45 L436.46 46.9 L441.44 45 L446.42 43.7 L451.4 38.9 L456.38 33.7 L461.36 31.8 L466.34 32.1 L471.32 32.1 L476.3 33.6 L481.28 35.2 L486.26 33.6 L491.24 30.4 L496.22 25.5 L501.2 21.9 L506.18 21.9 L511.16 21.9 L516.14 25.1 L521.12 25.1 L526.1 23.6 L531.08 21.9" fill="none" stroke="#ff0000" stroke-width="0.7" stroke-linejoin="round"/>
<circle cx="401.6" cy="57" r="2.1" fill="#ff0000"/>
<circle cx="406.58" cy="42.1" r="2.1" fill="#ff0000"/>
<circle cx="411.56" cy="40.1" r="2.1" fill="#ff0000"/>
<circle cx="416.54" cy="36.6" r="2.1" fill="#ff0000"/>
<circle cx="421.52" cy="35" r="2.1" fill="#ff0000"/>
<circle cx="426.5" cy="38.9" r="2.1" fill="#ff0000"/>
<circle cx="431.48" cy="45" r="2.1" fill="#ff0000"/>
<circle cx="436.46" cy="46.9" r="2.1" fill="#ff0000"/>
<circle cx="441.44" cy="45" r="2.1" fill="#ff0000"/>
<circle cx="446.42" cy="43.7" r="2.1" fill="#ff0000"/>
<circle cx="451.4" cy="38.9" r="2.1" fill="#ff0000"/>
<circle cx="456.38" cy="33.7" r="2.1" fill="#ff0000"/>
<circle cx="461.36" cy="31.8" r="2.1" fill="#ff0000"/>
<circle cx="466.34" cy="32.1" r="2.1" fill="#ff0000"/>
<circle cx="471.32" cy="32.1" r="2.1" fill="#ff0000"/>
<circle cx="476.3" cy="33.6" r="2.1" fill="#ff0000"/>
<circle cx="481.28" cy="35.2" r="2.1" fill="#ff0000"/>
<circle cx="486.26" cy="33.6" r="2.1" fill="#ff0000"/>
<circle cx="491.24" cy="30.4" r="2.1" fill="#ff0000"/>
<circle cx="496.22" cy="25.5" r="2.1" fill="#ff0000"/>
<circle cx="501.2" cy="21.9" r="2.1" fill="#ff0000"/>
<circle cx="506.18" cy="21.9" r="2.1" fill="#ff0000"/>
<circle cx="511.16" cy="21.9" r="2.1" fill="#ff0000"/>
<circle cx="516.14" cy="25.1" r="2.1" fill="#ff0000"/>
<circle cx="521.12" cy="25.1" r="2.1" fill="#ff0000"/>
<circle cx="526.1" cy="23.6" r="2.1" fill="#ff0000"/>
<circle cx="531.08" cy="21.9" r="2.1" fill="#ff0000"/>
<text x="395.5" y="7.3" font-family="Liberation Sans" font-size="5.8" text-anchor="end" fill="#000" stroke="#000" stroke-width="0.06" dominant-baseline="central">2</text>
<text x="395.5" y="42.2" font-family="Liberation Sans" font-size="5.8" text-anchor="end" fill="#000" stroke="#000" stroke-width="0.06" dominant-baseline="central">1</text>
<text x="395.5" y="77.1" font-family="Liberation Sans" font-size="5.8" text-anchor="end" fill="#000" stroke="#000" stroke-width="0.06" dominant-baseline="central">0</text>
<text x="395.5" y="112" font-family="Liberation Sans" font-size="5.8" text-anchor="end" fill="#000" stroke="#000" stroke-width="0.06" dominant-baseline="central">-1</text>
<text x="396.5" y="116.8" font-family="Liberation Sans" font-size="5.8" text-anchor="middle" fill="#000" stroke="#000" stroke-width="0.06" dominant-baseline="central">0</text>
<text x="433.2" y="116.8" font-family="Liberation Sans" font-size="5.8" text-anchor="middle" fill="#000" stroke="#000" stroke-width="0.06" dominant-baseline="central">1</text>
<text x="469.9" y="116.8" font-family="Liberation Sans" font-size="5.8" text-anchor="middle" fill="#000" stroke="#000" stroke-width="0.06" dominant-baseline="central">2</text>
<text x="506.6" y="116.8" font-family="Liberation Sans" font-size="5.8" text-anchor="middle" fill="#000" stroke="#000" stroke-width="0.06" dominant-baseline="central">3</text>
<text x="543.3" y="116.8" font-family="Liberation Sans" font-size="5.8" text-anchor="middle" fill="#000" stroke="#000" stroke-width="0.06" dominant-baseline="central">4</text>
<text x="469.6" y="124.7" font-family="Liberation Serif" font-size="10" text-anchor="middle" dominant-baseline="central">&#964;</text>
<text x="0" y="0" font-family="Liberation Serif" font-size="9.2" text-anchor="middle" transform="translate(384.1 59.9) rotate(-90)" dominant-baseline="central">&#946;</text>
<path d="M481.4 87.9H491.6" stroke="#000" stroke-width="0.8"/>
<path d="M486.5 85.3 L487.2 86.93 L488.97 87.1 L487.64 88.27 L488.03 90 L486.5 89.1 L484.97 90 L485.36 88.27 L484.03 87.1 L485.8 86.93Z" fill="#000"/>
<text x="493.5" y="87.9" font-family="Liberation Sans" font-size="5.85" text-anchor="start" fill="#000" stroke="#000" stroke-width="0.06" dominant-baseline="central">X-Back</text>
<path d="M481.4 95.7H491.6" stroke="#0000ff" stroke-width="0.8"/>
<path d="M486.5 93.44L488.9 97.34L484.1 97.34Z" fill="#0000ff"/>
<text x="493.5" y="95.7" font-family="Liberation Sans" font-size="5.85" text-anchor="start" fill="#000" stroke="#000" stroke-width="0.06" dominant-baseline="central">X-Front</text>
<path d="M481.4 102.4H491.6" stroke="#ff0000" stroke-width="0.8"/>
<circle cx="486.5" cy="102.4" r="2.1" fill="#ff0000"/>
<text x="493.5" y="102.4" font-family="Liberation Sans" font-size="5.85" text-anchor="start" fill="#000" stroke="#000" stroke-width="0.06" dominant-baseline="central">Attached diameter</text>
<text x="438.9" y="145" font-family="Liberation Serif" font-size="14" textLength="49.9" lengthAdjust="spacingAndGlyphs" fill="#111">(<tspan font-weight="bold">c</tspan>) 36.9&#176;</text>
<rect x="40.5" y="153" width="204.3" height="151.4" fill="none" stroke="#bbb" stroke-width="1"/>
<path d="M40.5 304.4v-2M40.5 153v2M91.58 304.4v-2M91.58 153v2M142.66 304.4v-2M142.66 153v2M193.74 304.4v-2M193.74 153v2M244.82 304.4v-2M244.82 153v2M40.5 305.07h2M244.8 305.07h-2M40.5 274.8h2M244.8 274.8h-2M40.5 244.53h2M244.8 244.53h-2M40.5 214.25h2M244.8 214.25h-2M40.5 183.98h2M244.8 183.98h-2M40.5 153.7h2M244.8 153.7h-2" stroke="#bbb" stroke-width="0.8" fill="none"/>
<path d="M46.7 287.6 L53.72 290.4 L60.74 290.4 L67.76 293.2 L74.78 301.3 L81.8 301.3 L88.82 301.3 L95.84 301.3 L102.86 290.6 L109.88 282 L116.9 282 L123.92 282 L130.94 285 L137.96 282 L144.98 279.5 L152 282.5 L159.02 279.5 L166.04 273.5 L173.06 279.3 L180.08 282.2 L187.1 282.2 L194.12 282.4 L201.14 282.4 L208.16 282.4 L215.18 282.4 L222.2 282.4" fill="none" stroke="#000" stroke-width="0.8" stroke-linejoin="round"/>
<path d="M46.7 284 L47.67 286.26 L50.12 286.49 L48.27 288.11 L48.82 290.51 L46.7 289.26 L44.58 290.51 L45.13 288.11 L43.28 286.49 L45.73 286.26Z" fill="#000"/>
<path d="M53.72 286.8 L54.69 289.06 L57.14 289.29 L55.29 290.91 L55.84 293.31 L53.72 292.06 L51.6 293.31 L52.15 290.91 L50.3 289.29 L52.75 289.06Z" fill="#000"/>
<path d="M60.74 286.8 L61.71 289.06 L64.16 289.29 L62.31 290.91 L62.86 293.31 L60.74 292.06 L58.62 293.31 L59.17 290.91 L57.32 289.29 L59.77 289.06Z" fill="#000"/>
<path d="M67.76 289.6 L68.73 291.86 L71.18 292.09 L69.33 293.71 L69.88 296.11 L67.76 294.86 L65.64 296.11 L66.19 293.71 L64.34 292.09 L66.79 291.86Z" fill="#000"/>
<path d="M74.78 297.7 L75.75 299.96 L78.2 300.19 L76.35 301.81 L76.9 304.21 L74.78 302.96 L72.66 304.21 L73.21 301.81 L71.36 300.19 L73.81 299.96Z" fill="#000"/>
<path d="M81.8 297.7 L82.77 299.96 L85.22 300.19 L83.37 301.81 L83.92 304.21 L81.8 302.96 L79.68 304.21 L80.23 301.81 L78.38 300.19 L80.83 299.96Z" fill="#000"/>
<path d="M88.82 297.7 L89.79 299.96 L92.24 300.19 L90.39 301.81 L90.94 304.21 L88.82 302.96 L86.7 304.21 L87.25 301.81 L85.4 300.19 L87.85 299.96Z" fill="#000"/>
<path d="M95.84 297.7 L96.81 299.96 L99.26 300.19 L97.41 301.81 L97.96 304.21 L95.84 302.96 L93.72 304.21 L94.27 301.81 L92.42 300.19 L94.87 299.96Z" fill="#000"/>
<path d="M102.86 287 L103.83 289.26 L106.28 289.49 L104.43 291.11 L104.98 293.51 L102.86 292.26 L100.74 293.51 L101.29 291.11 L99.44 289.49 L101.89 289.26Z" fill="#000"/>
<path d="M109.88 278.4 L110.85 280.66 L113.3 280.89 L111.45 282.51 L112 284.91 L109.88 283.66 L107.76 284.91 L108.31 282.51 L106.46 280.89 L108.91 280.66Z" fill="#000"/>
<path d="M116.9 278.4 L117.87 280.66 L120.32 280.89 L118.47 282.51 L119.02 284.91 L116.9 283.66 L114.78 284.91 L115.33 282.51 L113.48 280.89 L115.93 280.66Z" fill="#000"/>
<path d="M123.92 278.4 L124.89 280.66 L127.34 280.89 L125.49 282.51 L126.04 284.91 L123.92 283.66 L121.8 284.91 L122.35 282.51 L120.5 280.89 L122.95 280.66Z" fill="#000"/>
<path d="M130.94 281.4 L131.91 283.66 L134.36 283.89 L132.51 285.51 L133.06 287.91 L130.94 286.66 L128.82 287.91 L129.37 285.51 L127.52 283.89 L129.97 283.66Z" fill="#000"/>
<path d="M137.96 278.4 L138.93 280.66 L141.38 280.89 L139.53 282.51 L140.08 284.91 L137.96 283.66 L135.84 284.91 L136.39 282.51 L134.54 280.89 L136.99 280.66Z" fill="#000"/>
<path d="M144.98 275.9 L145.95 278.16 L148.4 278.39 L146.55 280.01 L147.1 282.41 L144.98 281.16 L142.86 282.41 L143.41 280.01 L141.56 278.39 L144.01 278.16Z" fill="#000"/>
<path d="M152 278.9 L152.97 281.16 L155.42 281.39 L153.57 283.01 L154.12 285.41 L152 284.16 L149.88 285.41 L150.43 283.01 L148.58 281.39 L151.03 281.16Z" fill="#000"/>
<path d="M159.02 275.9 L159.99 278.16 L162.44 278.39 L160.59 280.01 L161.14 282.41 L159.02 281.16 L156.9 282.41 L157.45 280.01 L155.6 278.39 L158.05 278.16Z" fill="#000"/>
<path d="M166.04 269.9 L167.01 272.16 L169.46 272.39 L167.61 274.01 L168.16 276.41 L166.04 275.16 L163.92 276.41 L164.47 274.01 L162.62 272.39 L165.07 272.16Z" fill="#000"/>
<path d="M173.06 275.7 L174.03 277.96 L176.48 278.19 L174.63 279.81 L175.18 282.21 L173.06 280.96 L170.94 282.21 L171.49 279.81 L169.64 278.19 L172.09 277.96Z" fill="#000"/>
<path d="M180.08 278.6 L181.05 280.86 L183.5 281.09 L181.65 282.71 L182.2 285.11 L180.08 283.86 L177.96 285.11 L178.51 282.71 L176.66 281.09 L179.11 280.86Z" fill="#000"/>
<path d="M187.1 278.6 L188.07 280.86 L190.52 281.09 L188.67 282.71 L189.22 285.11 L187.1 283.86 L184.98 285.11 L185.53 282.71 L183.68 281.09 L186.13 280.86Z" fill="#000"/>
<path d="M194.12 278.8 L195.09 281.06 L197.54 281.29 L195.69 282.91 L196.24 285.31 L194.12 284.06 L192 285.31 L192.55 282.91 L190.7 281.29 L193.15 281.06Z" fill="#000"/>
<path d="M201.14 278.8 L202.11 281.06 L204.56 281.29 L202.71 282.91 L203.26 285.31 L201.14 284.06 L199.02 285.31 L199.57 282.91 L197.72 281.29 L200.17 281.06Z" fill="#000"/>
<path d="M208.16 278.8 L209.13 281.06 L211.58 281.29 L209.73 282.91 L210.28 285.31 L208.16 284.06 L206.04 285.31 L206.59 282.91 L204.74 281.29 L207.19 281.06Z" fill="#000"/>
<path d="M215.18 278.8 L216.15 281.06 L218.6 281.29 L216.75 282.91 L217.3 285.31 L215.18 284.06 L213.06 285.31 L213.61 282.91 L211.76 281.29 L214.21 281.06Z" fill="#000"/>
<path d="M222.2 278.8 L223.17 281.06 L225.62 281.29 L223.77 282.91 L224.32 285.31 L222.2 284.06 L220.08 285.31 L220.63 282.91 L218.78 281.29 L221.23 281.06Z" fill="#000"/>
<path d="M46.7 260.2 L53.72 257.4 L60.74 257.4 L67.76 249 L74.78 240.5 L81.8 235.3 L88.82 232 L95.84 229.7 L102.86 229.7 L109.88 226.6 L116.9 224.1 L123.92 221.6 L130.94 208.5 L137.96 196.6 L144.98 193.6 L152 193.6 L159.02 191.2 L166.04 191.2 L173.06 191.2 L180.08 191.2 L187.1 191.2 L194.12 191.2 L201.14 193.6 L208.16 191.2 L215.18 191.2 L222.2 191.2" fill="none" stroke="#0000ff" stroke-width="0.8" stroke-linejoin="round"/>
<path d="M46.7 257.3L49.7 262.3L43.7 262.3Z" fill="#0000ff"/>
<path d="M53.72 254.5L56.72 259.5L50.72 259.5Z" fill="#0000ff"/>
<path d="M60.74 254.5L63.74 259.5L57.74 259.5Z" fill="#0000ff"/>
<path d="M67.76 246.1L70.76 251.1L64.76 251.1Z" fill="#0000ff"/>
<path d="M74.78 237.6L77.78 242.6L71.78 242.6Z" fill="#0000ff"/>
<path d="M81.8 232.4L84.8 237.4L78.8 237.4Z" fill="#0000ff"/>
<path d="M88.82 229.1L91.82 234.1L85.82 234.1Z" fill="#0000ff"/>
<path d="M95.84 226.8L98.84 231.8L92.84 231.8Z" fill="#0000ff"/>
<path d="M102.86 226.8L105.86 231.8L99.86 231.8Z" fill="#0000ff"/>
<path d="M109.88 223.7L112.88 228.7L106.88 228.7Z" fill="#0000ff"/>
<path d="M116.9 221.2L119.9 226.2L113.9 226.2Z" fill="#0000ff"/>
<path d="M123.92 218.7L126.92 223.7L120.92 223.7Z" fill="#0000ff"/>
<path d="M130.94 205.6L133.94 210.6L127.94 210.6Z" fill="#0000ff"/>
<path d="M137.96 193.7L140.96 198.7L134.96 198.7Z" fill="#0000ff"/>
<path d="M144.98 190.7L147.98 195.7L141.98 195.7Z" fill="#0000ff"/>
<path d="M152 190.7L155 195.7L149 195.7Z" fill="#0000ff"/>
<path d="M159.02 188.3L162.02 193.3L156.02 193.3Z" fill="#0000ff"/>
<path d="M166.04 188.3L169.04 193.3L163.04 193.3Z" fill="#0000ff"/>
<path d="M173.06 188.3L176.06 193.3L170.06 193.3Z" fill="#0000ff"/>
<path d="M180.08 188.3L183.08 193.3L177.08 193.3Z" fill="#0000ff"/>
<path d="M187.1 188.3L190.1 193.3L184.1 193.3Z" fill="#0000ff"/>
<path d="M194.12 188.3L197.12 193.3L191.12 193.3Z" fill="#0000ff"/>
<path d="M201.14 190.7L204.14 195.7L198.14 195.7Z" fill="#0000ff"/>
<path d="M208.16 188.3L211.16 193.3L205.16 193.3Z" fill="#0000ff"/>
<path d="M215.18 188.3L218.18 193.3L212.18 193.3Z" fill="#0000ff"/>
<path d="M222.2 188.3L225.2 193.3L219.2 193.3Z" fill="#0000ff"/>
<path d="M46.7 246.4 L53.72 240.9 L60.74 240.9 L67.76 230.5 L74.78 213.5 L81.8 208.2 L88.82 205.6 L95.84 202.2 L102.86 213.5 L109.88 219.3 L116.9 216.4 L123.92 213.5 L130.94 196.8 L137.96 189 L144.98 188.5 L152 185.9 L159.02 185.9 L166.04 191.4 L173.06 185.9 L180.08 183.1 L187.1 183.1 L194.12 183.1 L201.14 185.9 L208.16 183.1 L215.18 183.1 L222.2 183.1" fill="none" stroke="#ff0000" stroke-width="0.8" stroke-linejoin="round"/>
<circle cx="46.7" cy="246.4" r="2.75" fill="#ff0000"/>
<circle cx="53.72" cy="240.9" r="2.75" fill="#ff0000"/>
<circle cx="60.74" cy="240.9" r="2.75" fill="#ff0000"/>
<circle cx="67.76" cy="230.5" r="2.75" fill="#ff0000"/>
<circle cx="74.78" cy="213.5" r="2.75" fill="#ff0000"/>
<circle cx="81.8" cy="208.2" r="2.75" fill="#ff0000"/>
<circle cx="88.82" cy="205.6" r="2.75" fill="#ff0000"/>
<circle cx="95.84" cy="202.2" r="2.75" fill="#ff0000"/>
<circle cx="102.86" cy="213.5" r="2.75" fill="#ff0000"/>
<circle cx="109.88" cy="219.3" r="2.75" fill="#ff0000"/>
<circle cx="116.9" cy="216.4" r="2.75" fill="#ff0000"/>
<circle cx="123.92" cy="213.5" r="2.75" fill="#ff0000"/>
<circle cx="130.94" cy="196.8" r="2.75" fill="#ff0000"/>
<circle cx="137.96" cy="189" r="2.75" fill="#ff0000"/>
<circle cx="144.98" cy="188.5" r="2.75" fill="#ff0000"/>
<circle cx="152" cy="185.9" r="2.75" fill="#ff0000"/>
<circle cx="159.02" cy="185.9" r="2.75" fill="#ff0000"/>
<circle cx="166.04" cy="191.4" r="2.75" fill="#ff0000"/>
<circle cx="173.06" cy="185.9" r="2.75" fill="#ff0000"/>
<circle cx="180.08" cy="183.1" r="2.75" fill="#ff0000"/>
<circle cx="187.1" cy="183.1" r="2.75" fill="#ff0000"/>
<circle cx="194.12" cy="183.1" r="2.75" fill="#ff0000"/>
<circle cx="201.14" cy="185.9" r="2.75" fill="#ff0000"/>
<circle cx="208.16" cy="183.1" r="2.75" fill="#ff0000"/>
<circle cx="215.18" cy="183.1" r="2.75" fill="#ff0000"/>
<circle cx="222.2" cy="183.1" r="2.75" fill="#ff0000"/>
<text x="38.8" y="153.7" font-family="Liberation Sans" font-size="8.3" text-anchor="end" fill="#000" dominant-baseline="central">2.0</text>
<text x="38.8" y="183.98" font-family="Liberation Sans" font-size="8.3" text-anchor="end" fill="#000" dominant-baseline="central">1.5</text>
<text x="38.8" y="214.25" font-family="Liberation Sans" font-size="8.3" text-anchor="end" fill="#000" dominant-baseline="central">1</text>
<text x="38.8" y="244.53" font-family="Liberation Sans" font-size="8.3" text-anchor="end" fill="#000" dominant-baseline="central">0.5</text>
<text x="38.8" y="274.8" font-family="Liberation Sans" font-size="8.3" text-anchor="end" fill="#000" dominant-baseline="central">0</text>
<text x="38.8" y="305.07" font-family="Liberation Sans" font-size="8.3" text-anchor="end" fill="#000" dominant-baseline="central">-0.5</text>
<text x="40.5" y="310.8" font-family="Liberation Sans" font-size="8.3" text-anchor="middle" fill="#000" dominant-baseline="central">0</text>
<text x="91.58" y="310.8" font-family="Liberation Sans" font-size="8.3" text-anchor="middle" fill="#000" dominant-baseline="central">2</text>
<text x="142.66" y="310.8" font-family="Liberation Sans" font-size="8.3" text-anchor="middle" fill="#000" dominant-baseline="central">4</text>
<text x="193.74" y="310.8" font-family="Liberation Sans" font-size="8.3" text-anchor="middle" fill="#000" dominant-baseline="central">6</text>
<text x="244.82" y="310.8" font-family="Liberation Sans" font-size="8.3" text-anchor="middle" fill="#000" dominant-baseline="central">8</text>
<text x="142.4" y="322.9" font-family="Liberation Serif" font-size="13.5" text-anchor="middle" dominant-baseline="central">&#964;</text>
<text x="0" y="0" font-family="Liberation Serif" font-size="12.5" text-anchor="middle" transform="translate(15.2 229.7) rotate(-90)" dominant-baseline="central">&#946;</text>
<path d="M44.9 161.8H60" stroke="#000" stroke-width="0.8"/>
<path d="M52.45 158.2 L53.42 160.46 L55.87 160.69 L54.02 162.31 L54.57 164.71 L52.45 163.46 L50.33 164.71 L50.88 162.31 L49.03 160.69 L51.48 160.46Z" fill="#000"/>
<text x="62.1" y="161.8" font-family="Liberation Sans" font-size="8.2" text-anchor="start" fill="#000" dominant-baseline="central">X-Back</text>
<path d="M44.9 172.9H60" stroke="#0000ff" stroke-width="0.8"/>
<path d="M52.45 170L55.45 175L49.45 175Z" fill="#0000ff"/>
<text x="62.1" y="172.9" font-family="Liberation Sans" font-size="8.2" text-anchor="start" fill="#000" dominant-baseline="central">X-Front</text>
<path d="M44.9 183.6H60" stroke="#ff0000" stroke-width="0.8"/>
<circle cx="52.45" cy="183.6" r="2.75" fill="#ff0000"/>
<text x="62.1" y="183.6" font-family="Liberation Sans" font-size="8.2" text-anchor="start" fill="#000" dominant-baseline="central">Attached diameter</text>
<text x="104" y="344.8" font-family="Liberation Serif" font-size="14" textLength="51.3" lengthAdjust="spacingAndGlyphs" fill="#111">(<tspan font-weight="bold">d</tspan>) 67.4&#176;</text>
<rect x="313.5" y="152.9" width="223.9" height="152.2" fill="none" stroke="#aaa" stroke-width="1"/>
<path d="M313.4 305.1v-2M313.4 152.9v2M369.4 305.1v-2M369.4 152.9v2M425.4 305.1v-2M425.4 152.9v2M481.4 305.1v-2M481.4 152.9v2M537.4 305.1v-2M537.4 152.9v2M313.5 288.25h2M537.4 288.25h-2M313.5 254.35h2M537.4 254.35h-2M313.5 220.45h2M537.4 220.45h-2M313.5 186.55h2M537.4 186.55h-2M313.5 152.65h2M537.4 152.65h-2" stroke="#aaa" stroke-width="0.8" fill="none"/>
<path d="M314.6 301.04 L326.37 279.77 L338.14 237.4 L349.91 250.35 L361.68 258.51 L373.45 228.77 L385.22 228.77 L396.99 224.77 L408.76 215.81 L420.53 245.87 L432.3 241.4 L444.07 266.82 L455.84 258.51 L467.61 236.92 L479.38 245.72 L491.15 241.56 L502.92 228.93 L514.69 233.24 L526.46 228.93" fill="none" stroke="#ff0000" stroke-width="0.8" stroke-linejoin="round"/>
<circle cx="314.6" cy="301.04" r="2.75" fill="#ff0000"/>
<circle cx="326.37" cy="279.77" r="2.75" fill="#ff0000"/>
<circle cx="338.14" cy="237.4" r="2.75" fill="#ff0000"/>
<circle cx="349.91" cy="250.35" r="2.75" fill="#ff0000"/>
<circle cx="361.68" cy="258.51" r="2.75" fill="#ff0000"/>
<circle cx="373.45" cy="228.77" r="2.75" fill="#ff0000"/>
<circle cx="385.22" cy="228.77" r="2.75" fill="#ff0000"/>
<circle cx="396.99" cy="224.77" r="2.75" fill="#ff0000"/>
<circle cx="408.76" cy="215.81" r="2.75" fill="#ff0000"/>
<circle cx="420.53" cy="245.87" r="2.75" fill="#ff0000"/>
<circle cx="432.3" cy="241.4" r="2.75" fill="#ff0000"/>
<circle cx="444.07" cy="266.82" r="2.75" fill="#ff0000"/>
<circle cx="455.84" cy="258.51" r="2.75" fill="#ff0000"/>
<circle cx="467.61" cy="236.92" r="2.75" fill="#ff0000"/>
<circle cx="479.38" cy="245.72" r="2.75" fill="#ff0000"/>
<circle cx="491.15" cy="241.56" r="2.75" fill="#ff0000"/>
<circle cx="502.92" cy="228.93" r="2.75" fill="#ff0000"/>
<circle cx="514.69" cy="233.24" r="2.75" fill="#ff0000"/>
<circle cx="526.46" cy="228.93" r="2.75" fill="#ff0000"/>
<path d="M321 271.57 L329.73 233.52 L338.46 225.69 L347.19 245.55 L355.92 245.55 L364.65 241.64 L373.38 222.33 L382.11 222.33 L390.84 230.16 L399.57 225.69 L408.3 205.82 L417.03 202.19 L425.76 205.82 L434.49 215.34 L443.22 203.02 L451.95 199.11 L460.68 190.99 L469.41 191.55 L478.14 186.8 L486.87 183.44 L495.6 187.64 L504.33 183.44 L513.06 183.44 L521.79 179.52" fill="none" stroke="#0000ff" stroke-width="0.8" stroke-linejoin="round"/>
<path d="M321 268.67L324 273.67L318 273.67Z" fill="#0000ff"/>
<path d="M329.73 230.62L332.73 235.62L326.73 235.62Z" fill="#0000ff"/>
<path d="M338.46 222.79L341.46 227.79L335.46 227.79Z" fill="#0000ff"/>
<path d="M347.19 242.65L350.19 247.65L344.19 247.65Z" fill="#0000ff"/>
<path d="M355.92 242.65L358.92 247.65L352.92 247.65Z" fill="#0000ff"/>
<path d="M364.65 238.74L367.65 243.74L361.65 243.74Z" fill="#0000ff"/>
<path d="M373.38 219.43L376.38 224.43L370.38 224.43Z" fill="#0000ff"/>
<path d="M382.11 219.43L385.11 224.43L379.11 224.43Z" fill="#0000ff"/>
<path d="M390.84 227.26L393.84 232.26L387.84 232.26Z" fill="#0000ff"/>
<path d="M399.57 222.79L402.57 227.79L396.57 227.79Z" fill="#0000ff"/>
<path d="M408.3 202.92L411.3 207.92L405.3 207.92Z" fill="#0000ff"/>
<path d="M417.03 199.29L420.03 204.29L414.03 204.29Z" fill="#0000ff"/>
<path d="M425.76 202.92L428.76 207.92L422.76 207.92Z" fill="#0000ff"/>
<path d="M434.49 212.44L437.49 217.44L431.49 217.44Z" fill="#0000ff"/>
<path d="M443.22 200.12L446.22 205.12L440.22 205.12Z" fill="#0000ff"/>
<path d="M451.95 196.21L454.95 201.21L448.95 201.21Z" fill="#0000ff"/>
<path d="M460.68 188.09L463.68 193.09L457.68 193.09Z" fill="#0000ff"/>
<path d="M469.41 188.65L472.41 193.65L466.41 193.65Z" fill="#0000ff"/>
<path d="M478.14 183.9L481.14 188.9L475.14 188.9Z" fill="#0000ff"/>
<path d="M486.87 180.54L489.87 185.54L483.87 185.54Z" fill="#0000ff"/>
<path d="M495.6 184.74L498.6 189.74L492.6 189.74Z" fill="#0000ff"/>
<path d="M504.33 180.54L507.33 185.54L501.33 185.54Z" fill="#0000ff"/>
<path d="M513.06 180.54L516.06 185.54L510.06 185.54Z" fill="#0000ff"/>
<path d="M521.79 176.62L524.79 181.62L518.79 181.62Z" fill="#0000ff"/>
<path d="M322 274.07 L325.93 238.43 L329.86 233.65 L333.79 225.28 L337.72 221.45 L341.65 230.78 L345.58 245.37 L349.51 249.91 L353.44 245.37 L357.37 242.26 L361.3 230.78 L365.23 218.34 L369.16 213.8 L373.09 214.51 L377.02 214.51 L380.95 218.1 L384.88 221.93 L388.81 218.1 L392.74 210.45 L396.67 198.73 L400.6 190.11 L404.53 190.11 L408.46 190.11 L412.39 197.77 L416.32 197.77 L420.25 194.18 L424.18 190.11" fill="none" stroke="#00ff00" stroke-width="0.8" stroke-linejoin="round"/>
<rect x="319.5" y="271.57" width="5" height="5" fill="#00ff00"/>
<rect x="323.43" y="235.93" width="5" height="5" fill="#00ff00"/>
<rect x="327.36" y="231.15" width="5" height="5" fill="#00ff00"/>
<rect x="331.29" y="222.78" width="5" height="5" fill="#00ff00"/>
<rect x="335.22" y="218.95" width="5" height="5" fill="#00ff00"/>
<rect x="339.15" y="228.28" width="5" height="5" fill="#00ff00"/>
<rect x="343.08" y="242.87" width="5" height="5" fill="#00ff00"/>
<rect x="347.01" y="247.41" width="5" height="5" fill="#00ff00"/>
<rect x="350.94" y="242.87" width="5" height="5" fill="#00ff00"/>
<rect x="354.87" y="239.76" width="5" height="5" fill="#00ff00"/>
<rect x="358.8" y="228.28" width="5" height="5" fill="#00ff00"/>
<rect x="362.73" y="215.84" width="5" height="5" fill="#00ff00"/>
<rect x="366.66" y="211.3" width="5" height="5" fill="#00ff00"/>
<rect x="370.59" y="212.01" width="5" height="5" fill="#00ff00"/>
<rect x="374.52" y="212.01" width="5" height="5" fill="#00ff00"/>
<rect x="378.45" y="215.6" width="5" height="5" fill="#00ff00"/>
<rect x="382.38" y="219.43" width="5" height="5" fill="#00ff00"/>
<rect x="386.31" y="215.6" width="5" height="5" fill="#00ff00"/>
<rect x="390.24" y="207.95" width="5" height="5" fill="#00ff00"/>
<rect x="394.17" y="196.23" width="5" height="5" fill="#00ff00"/>
<rect x="398.1" y="187.61" width="5" height="5" fill="#00ff00"/>
<rect x="402.03" y="187.61" width="5" height="5" fill="#00ff00"/>
<rect x="405.96" y="187.61" width="5" height="5" fill="#00ff00"/>
<rect x="409.89" y="195.27" width="5" height="5" fill="#00ff00"/>
<rect x="413.82" y="195.27" width="5" height="5" fill="#00ff00"/>
<rect x="417.75" y="191.68" width="5" height="5" fill="#00ff00"/>
<rect x="421.68" y="187.61" width="5" height="5" fill="#00ff00"/>
<path d="M316.8 277.79 L320.73 269.2 L324.66 269.2 L328.59 252.95 L332.52 226.4 L336.45 218.12 L340.38 214.06 L344.31 208.75 L348.24 226.4 L352.17 235.46 L356.1 230.93 L360.03 226.4 L363.96 200.31 L367.89 188.13 L371.82 187.35 L375.75 183.29 L379.68 183.29 L383.61 191.88 L387.54 183.29 L391.47 178.91 L395.4 178.91 L399.33 178.91 L403.26 183.29 L407.19 178.91 L411.12 178.91 L415.05 178.91" fill="none" stroke="#000" stroke-width="0.8" stroke-linejoin="round"/>
<path d="M316.8 274.19 L317.77 276.45 L320.22 276.68 L318.37 278.3 L318.92 280.7 L316.8 279.44 L314.68 280.7 L315.23 278.3 L313.38 276.68 L315.83 276.45Z" fill="#000"/>
<path d="M320.73 265.6 L321.7 267.86 L324.15 268.08 L322.3 269.71 L322.85 272.11 L320.73 270.85 L318.61 272.11 L319.16 269.71 L317.31 268.08 L319.76 267.86Z" fill="#000"/>
<path d="M324.66 265.6 L325.63 267.86 L328.08 268.08 L326.23 269.71 L326.78 272.11 L324.66 270.85 L322.54 272.11 L323.09 269.71 L321.24 268.08 L323.69 267.86Z" fill="#000"/>
<path d="M328.59 249.35 L329.56 251.61 L332.01 251.84 L330.16 253.46 L330.71 255.86 L328.59 254.61 L326.47 255.86 L327.02 253.46 L325.17 251.84 L327.62 251.61Z" fill="#000"/>
<path d="M332.52 222.8 L333.49 225.06 L335.94 225.29 L334.09 226.91 L334.64 229.31 L332.52 228.05 L330.4 229.31 L330.95 226.91 L329.1 225.29 L331.55 225.06Z" fill="#000"/>
<path d="M336.45 214.52 L337.42 216.78 L339.87 217.01 L338.02 218.63 L338.57 221.03 L336.45 219.77 L334.33 221.03 L334.88 218.63 L333.03 217.01 L335.48 216.78Z" fill="#000"/>
<path d="M340.38 210.46 L341.35 212.72 L343.8 212.94 L341.95 214.57 L342.5 216.97 L340.38 215.71 L338.26 216.97 L338.81 214.57 L336.96 212.94 L339.41 212.72Z" fill="#000"/>
<path d="M344.31 205.15 L345.28 207.41 L347.73 207.63 L345.88 209.26 L346.43 211.66 L344.31 210.4 L342.19 211.66 L342.74 209.26 L340.89 207.63 L343.34 207.41Z" fill="#000"/>
<path d="M348.24 222.8 L349.21 225.06 L351.66 225.29 L349.81 226.91 L350.36 229.31 L348.24 228.05 L346.12 229.31 L346.67 226.91 L344.82 225.29 L347.27 225.06Z" fill="#000"/>
<path d="M352.17 231.86 L353.14 234.12 L355.59 234.34 L353.74 235.97 L354.29 238.37 L352.17 237.11 L350.05 238.37 L350.6 235.97 L348.75 234.34 L351.2 234.12Z" fill="#000"/>
<path d="M356.1 227.33 L357.07 229.59 L359.52 229.81 L357.67 231.44 L358.22 233.84 L356.1 232.58 L353.98 233.84 L354.53 231.44 L352.68 229.81 L355.13 229.59Z" fill="#000"/>
<path d="M360.03 222.8 L361 225.06 L363.45 225.29 L361.6 226.91 L362.15 229.31 L360.03 228.05 L357.91 229.31 L358.46 226.91 L356.61 225.29 L359.06 225.06Z" fill="#000"/>
<path d="M363.96 196.71 L364.93 198.97 L367.38 199.2 L365.53 200.82 L366.08 203.22 L363.96 201.97 L361.84 203.22 L362.39 200.82 L360.54 199.2 L362.99 198.97Z" fill="#000"/>
<path d="M367.89 184.53 L368.86 186.79 L371.31 187.02 L369.46 188.64 L370.01 191.04 L367.89 189.78 L365.77 191.04 L366.32 188.64 L364.47 187.02 L366.92 186.79Z" fill="#000"/>
<path d="M371.82 183.75 L372.79 186.01 L375.24 186.23 L373.39 187.86 L373.94 190.26 L371.82 189 L369.7 190.26 L370.25 187.86 L368.4 186.23 L370.85 186.01Z" fill="#000"/>
<path d="M375.75 179.69 L376.72 181.95 L379.17 182.17 L377.32 183.8 L377.87 186.2 L375.75 184.94 L373.63 186.2 L374.18 183.8 L372.33 182.17 L374.78 181.95Z" fill="#000"/>
<path d="M379.68 179.69 L380.65 181.95 L383.1 182.17 L381.25 183.8 L381.8 186.2 L379.68 184.94 L377.56 186.2 L378.11 183.8 L376.26 182.17 L378.71 181.95Z" fill="#000"/>
<path d="M383.61 188.28 L384.58 190.54 L387.03 190.76 L385.18 192.39 L385.73 194.79 L383.61 193.53 L381.49 194.79 L382.04 192.39 L380.19 190.76 L382.64 190.54Z" fill="#000"/>
<path d="M387.54 179.69 L388.51 181.95 L390.96 182.17 L389.11 183.8 L389.66 186.2 L387.54 184.94 L385.42 186.2 L385.97 183.8 L384.12 182.17 L386.57 181.95Z" fill="#000"/>
<path d="M391.47 175.31 L392.44 177.57 L394.89 177.8 L393.04 179.42 L393.59 181.82 L391.47 180.57 L389.35 181.82 L389.9 179.42 L388.05 177.8 L390.5 177.57Z" fill="#000"/>
<path d="M395.4 175.31 L396.37 177.57 L398.82 177.8 L396.97 179.42 L397.52 181.82 L395.4 180.57 L393.28 181.82 L393.83 179.42 L391.98 177.8 L394.43 177.57Z" fill="#000"/>
<path d="M399.33 175.31 L400.3 177.57 L402.75 177.8 L400.9 179.42 L401.45 181.82 L399.33 180.57 L397.21 181.82 L397.76 179.42 L395.91 177.8 L398.36 177.57Z" fill="#000"/>
<path d="M403.26 179.69 L404.23 181.95 L406.68 182.17 L404.83 183.8 L405.38 186.2 L403.26 184.94 L401.14 186.2 L401.69 183.8 L399.84 182.17 L402.29 181.95Z" fill="#000"/>
<path d="M407.19 175.31 L408.16 177.57 L410.61 177.8 L408.76 179.42 L409.31 181.82 L407.19 180.57 L405.07 181.82 L405.62 179.42 L403.77 177.8 L406.22 177.57Z" fill="#000"/>
<path d="M411.12 175.31 L412.09 177.57 L414.54 177.8 L412.69 179.42 L413.24 181.82 L411.12 180.57 L409 181.82 L409.55 179.42 L407.7 177.8 L410.15 177.57Z" fill="#000"/>
<path d="M415.05 175.31 L416.02 177.57 L418.47 177.8 L416.62 179.42 L417.17 181.82 L415.05 180.57 L412.93 181.82 L413.48 179.42 L411.63 177.8 L414.08 177.57Z" fill="#000"/>
<path d="M320.3 305.2 L320.33 305.16 L320.41 305.06 L320.56 304.88 L320.77 304.63 L321.03 304.32 L321.36 303.94 L321.74 303.51 L322.18 303.02 L322.68 302.48 L323.24 301.9 L323.86 301.27 L324.54 300.61 L325.27 299.91 L326.07 299.17 L326.92 298.41 L327.84 297.62 L328.81 296.81 L329.84 295.98 L330.93 295.12 L332.08 294.25 L333.29 293.37 L334.55 292.46 L335.88 291.55 L337.27 290.62 L338.71 289.68 L340.21 288.73 L341.77 287.77 L343.39 286.8 L345.07 285.83 L346.81 284.84 L348.61 283.85 L350.46 282.86 L352.38 281.85 L354.35 280.84 L356.38 279.83 L358.48 278.81 L360.63 277.79 L362.84 276.77 L365.1 275.74 L367.43 274.7 L369.82 273.67 L372.26 272.63 L374.77 271.59 L377.33 270.54 L379.95 269.49 L382.63 268.44 L385.37 267.39 L388.17 266.34 L391.03 265.28 L393.95 264.22 L396.92 263.16 L399.96 262.1 L403.05 261.04 L406.2 259.97 L409.41 258.9 L412.68 257.84 L416.01 256.77 L419.4 255.7 L422.85 254.62 L426.35 253.55 L429.92 252.48 L433.54 251.4 L437.22 250.33 L440.96 249.25 L444.76 248.17 L448.62 247.09 L452.54 246.01 L456.52 244.93 L460.56 243.85 L464.65 242.77 L468.8 241.69 L473.02 240.6 L477.29 239.52 L481.62 238.44 L486.01 237.35 L490.46 236.26 L494.96 235.18 L499.53 234.09 L504.16 233 L508.84 231.92" fill="none" stroke="#ff0000" stroke-width="1.3"/>
<path d="M316.05 305.2 L316.08 305.1 L316.17 304.82 L316.32 304.36 L316.53 303.73 L316.8 302.95 L317.13 302.04 L317.52 301.01 L317.97 299.89 L318.48 298.68 L319.05 297.39 L319.69 296.05 L320.38 294.65 L321.13 293.21 L321.94 291.73 L322.81 290.22 L323.74 288.67 L324.73 287.11 L325.78 285.52 L326.89 283.91 L328.07 282.28 L329.3 280.64 L330.59 278.99 L331.94 277.32 L333.35 275.65 L334.82 273.96 L336.36 272.27 L337.95 270.57 L339.6 268.86 L341.31 267.15 L343.08 265.43 L344.92 263.71 L346.81 261.98 L348.76 260.24 L350.77 258.51 L352.84 256.77 L354.98 255.02 L357.17 253.27 L359.42 251.52 L361.74 249.77 L364.11 248.02 L366.54 246.26 L369.03 244.5 L371.59 242.74 L374.2 240.97 L376.87 239.21 L379.61 237.44 L382.4 235.67 L385.25 233.9 L388.17 232.13 L391.14 230.36 L394.17 228.59 L397.27 226.81 L400.42 225.03 L403.64 223.26 L406.91 221.48 L410.24 219.7 L413.64 217.92 L417.09 216.14 L420.61 214.36 L424.18 212.58 L427.81 210.79 L431.51 209.01 L435.26 207.23 L439.08 205.44 L442.95 203.66 L446.89 201.87 L450.88 200.08 L454.94 198.3 L459.05 196.51 L463.23 194.72 L467.46 192.93 L471.76 191.14 L476.11 189.35 L480.53 187.56 L485 185.77 L489.54 183.98 L494.13 182.19 L498.79 180.4 L503.5 178.61 L508.28 176.82" fill="none" stroke="#0000ff" stroke-width="1.3"/>
<path d="M315.13 305.2 L315.15 305.12 L315.2 304.87 L315.28 304.46 L315.4 303.91 L315.55 303.22 L315.74 302.42 L315.96 301.5 L316.22 300.5 L316.51 299.41 L316.83 298.26 L317.19 297.04 L317.58 295.78 L318.01 294.47 L318.47 293.12 L318.97 291.73 L319.49 290.32 L320.06 288.88 L320.65 287.42 L321.29 285.95 L321.95 284.45 L322.65 282.94 L323.38 281.41 L324.15 279.88 L324.95 278.33 L325.79 276.77 L326.66 275.21 L327.56 273.63 L328.5 272.05 L329.47 270.46 L330.48 268.87 L331.52 267.27 L332.59 265.67 L333.7 264.06 L334.84 262.45 L336.02 260.83 L337.23 259.21 L338.48 257.59 L339.76 255.96 L341.07 254.33 L342.42 252.7 L343.8 251.07 L345.21 249.43 L346.66 247.79 L348.15 246.15 L349.66 244.51 L351.22 242.86 L352.8 241.22 L354.42 239.57 L356.08 237.92 L357.77 236.27 L359.49 234.62 L361.24 232.97 L363.04 231.31 L364.86 229.66 L366.72 228 L368.61 226.35 L370.54 224.69 L372.5 223.03 L374.5 221.37 L376.53 219.71 L378.59 218.05 L380.69 216.39 L382.82 214.73 L384.99 213.06 L387.19 211.4 L389.42 209.74 L391.69 208.07 L393.99 206.41 L396.33 204.74 L398.7 203.07 L401.1 201.41 L403.54 199.74 L406.01 198.07 L408.52 196.4 L411.06 194.74 L413.64 193.07 L416.25 191.4 L418.89 189.73 L421.57 188.06 L424.28 186.39" fill="none" stroke="#00ff00" stroke-width="1.3"/>
<path d="M314.64 305.2 L314.66 305.1 L314.7 304.8 L314.77 304.32 L314.88 303.67 L315.01 302.86 L315.17 301.92 L315.36 300.86 L315.58 299.7 L315.83 298.45 L316.1 297.13 L316.41 295.74 L316.75 294.31 L317.11 292.82 L317.51 291.3 L317.93 289.75 L318.39 288.17 L318.87 286.56 L319.38 284.93 L319.93 283.28 L320.5 281.62 L321.1 279.94 L321.73 278.25 L322.38 276.54 L323.07 274.83 L323.79 273.11 L324.54 271.38 L325.31 269.64 L326.12 267.89 L326.95 266.14 L327.81 264.38 L328.71 262.62 L329.63 260.85 L330.58 259.08 L331.56 257.31 L332.57 255.53 L333.61 253.75 L334.68 251.96 L335.78 250.17 L336.9 248.38 L338.06 246.59 L339.25 244.8 L340.46 243 L341.71 241.2 L342.98 239.4 L344.28 237.6 L345.61 235.79 L346.97 233.99 L348.37 232.18 L349.79 230.37 L351.23 228.56 L352.71 226.75 L354.22 224.94 L355.76 223.12 L357.32 221.31 L358.92 219.49 L360.54 217.68 L362.2 215.86 L363.88 214.04 L365.59 212.23 L367.34 210.41 L369.11 208.59 L370.91 206.77 L372.74 204.95 L374.6 203.12 L376.48 201.3 L378.4 199.48 L380.35 197.65 L382.32 195.83 L384.33 194.01 L386.36 192.18 L388.43 190.36 L390.52 188.53 L392.64 186.7 L394.8 184.88 L396.98 183.05 L399.19 181.22 L401.43 179.4 L403.69 177.57 L405.99 175.74 L408.32 173.91" fill="none" stroke="#000" stroke-width="1.3"/>
<text x="311.7" y="153.15" font-family="Liberation Sans" font-size="8.1" text-anchor="end" fill="#000" font-weight="bold" stroke="#000" stroke-width="0.05" dominant-baseline="central">2</text>
<text x="311.7" y="187.05" font-family="Liberation Sans" font-size="8.1" text-anchor="end" fill="#000" font-weight="bold" stroke="#000" stroke-width="0.05" dominant-baseline="central">1.6</text>
<text x="311.7" y="220.95" font-family="Liberation Sans" font-size="8.1" text-anchor="end" fill="#000" font-weight="bold" stroke="#000" stroke-width="0.05" dominant-baseline="central">1.2</text>
<text x="311.7" y="254.85" font-family="Liberation Sans" font-size="8.1" text-anchor="end" fill="#000" font-weight="bold" stroke="#000" stroke-width="0.05" dominant-baseline="central">0.8</text>
<text x="311.7" y="288.75" font-family="Liberation Sans" font-size="8.1" text-anchor="end" fill="#000" font-weight="bold" stroke="#000" stroke-width="0.05" dominant-baseline="central">0.4</text>
<text x="313.4" y="311.2" font-family="Liberation Sans" font-size="8.1" text-anchor="middle" fill="#000" font-weight="bold" stroke="#000" stroke-width="0.05" dominant-baseline="central">0</text>
<text x="369.4" y="311.2" font-family="Liberation Sans" font-size="8.1" text-anchor="middle" fill="#000" font-weight="bold" stroke="#000" stroke-width="0.05" dominant-baseline="central">2</text>
<text x="425.4" y="311.2" font-family="Liberation Sans" font-size="8.1" text-anchor="middle" fill="#000" font-weight="bold" stroke="#000" stroke-width="0.05" dominant-baseline="central">4</text>
<text x="481.4" y="311.2" font-family="Liberation Sans" font-size="8.1" text-anchor="middle" fill="#000" font-weight="bold" stroke="#000" stroke-width="0.05" dominant-baseline="central">6</text>
<text x="537.4" y="311.2" font-family="Liberation Sans" font-size="8.1" text-anchor="middle" fill="#000" font-weight="bold" stroke="#000" stroke-width="0.05" dominant-baseline="central">8</text>
<text x="425.2" y="323.6" font-family="Liberation Serif" font-size="13.5" text-anchor="middle" dominant-baseline="central">&#964;</text>
<text x="0" y="0" font-family="Liberation Serif" font-size="12.5" text-anchor="middle" transform="translate(291.4 229.6) rotate(-90)" dominant-baseline="central">&#946;</text>
<path d="M487.1 261.8H502.4" stroke="#ff0000" stroke-width="0.8"/>
<circle cx="494.75" cy="261.8" r="2.75" fill="#ff0000"/>
<text x="505" y="261.8" font-family="Liberation Sans" font-size="8.2" text-anchor="start" fill="#000" stroke="#000" stroke-width="0.05" dominant-baseline="central">11.4&#176;</text>
<path d="M487.1 272.4H502.4" stroke="#0000ff" stroke-width="0.8"/>
<path d="M494.75 269.5L497.75 274.5L491.75 274.5Z" fill="#0000ff"/>
<text x="505" y="272.4" font-family="Liberation Sans" font-size="8.2" text-anchor="start" fill="#000" stroke="#000" stroke-width="0.05" dominant-baseline="central">18.9&#176;</text>
<path d="M487.1 283.2H502.4" stroke="#00ff00" stroke-width="0.8"/>
<rect x="492.25" y="280.7" width="5" height="5" fill="#00ff00"/>
<text x="505" y="283.2" font-family="Liberation Sans" font-size="8.2" text-anchor="start" fill="#000" stroke="#000" stroke-width="0.05" dominant-baseline="central">36.9&#176;</text>
<path d="M487.1 293.5H502.4" stroke="#000" stroke-width="0.8"/>
<path d="M494.75 289.9 L495.72 292.16 L498.17 292.39 L496.32 294.01 L496.87 296.41 L494.75 295.16 L492.63 296.41 L493.18 294.01 L491.33 292.39 L493.78 292.16Z" fill="#000"/>
<text x="505" y="293.5" font-family="Liberation Sans" font-size="8.2" text-anchor="start" fill="#000" stroke="#000" stroke-width="0.05" dominant-baseline="central">67.4&#176;</text>
<text x="391.8" y="170.6" font-family="Liberation Serif" font-size="9.4" fill="#000" textLength="20.2" lengthAdjust="spacingAndGlyphs">0.95&#964;</text>
<text x="411.4" y="166.3" font-family="Liberation Serif" font-size="7" fill="#000" textLength="8.6" lengthAdjust="spacingAndGlyphs">1/2</text>
<text x="429.9" y="182.9" font-family="Liberation Serif" font-size="9.4" fill="#00ff00" textLength="20.2" lengthAdjust="spacingAndGlyphs">0.82&#964;</text>
<text x="449.5" y="178.6" font-family="Liberation Serif" font-size="7" fill="#00ff00" textLength="8.6" lengthAdjust="spacingAndGlyphs">1/2</text>
<text x="449.9" y="215.6" font-family="Liberation Serif" font-size="9.4" fill="#0000ff" textLength="19.8" lengthAdjust="spacingAndGlyphs">0.64&#964;</text>
<text x="469.1" y="211.3" font-family="Liberation Serif" font-size="7" fill="#0000ff" textLength="8.6" lengthAdjust="spacingAndGlyphs">1/2</text>
<text x="384" y="281.6" font-family="Liberation Serif" font-size="9.4" fill="#ff0000" textLength="20" lengthAdjust="spacingAndGlyphs">0.40&#964;</text>
<text x="403.4" y="277.3" font-family="Liberation Serif" font-size="7" fill="#ff0000" textLength="8.6" lengthAdjust="spacingAndGlyphs">1/2</text>
<text x="349.4" y="345" font-family="Liberation Serif" font-size="14" textLength="128.4" lengthAdjust="spacingAndGlyphs" fill="#111">(<tspan font-weight="bold">e</tspan>) mixed apex angle</text>
</svg>
</body></html>
